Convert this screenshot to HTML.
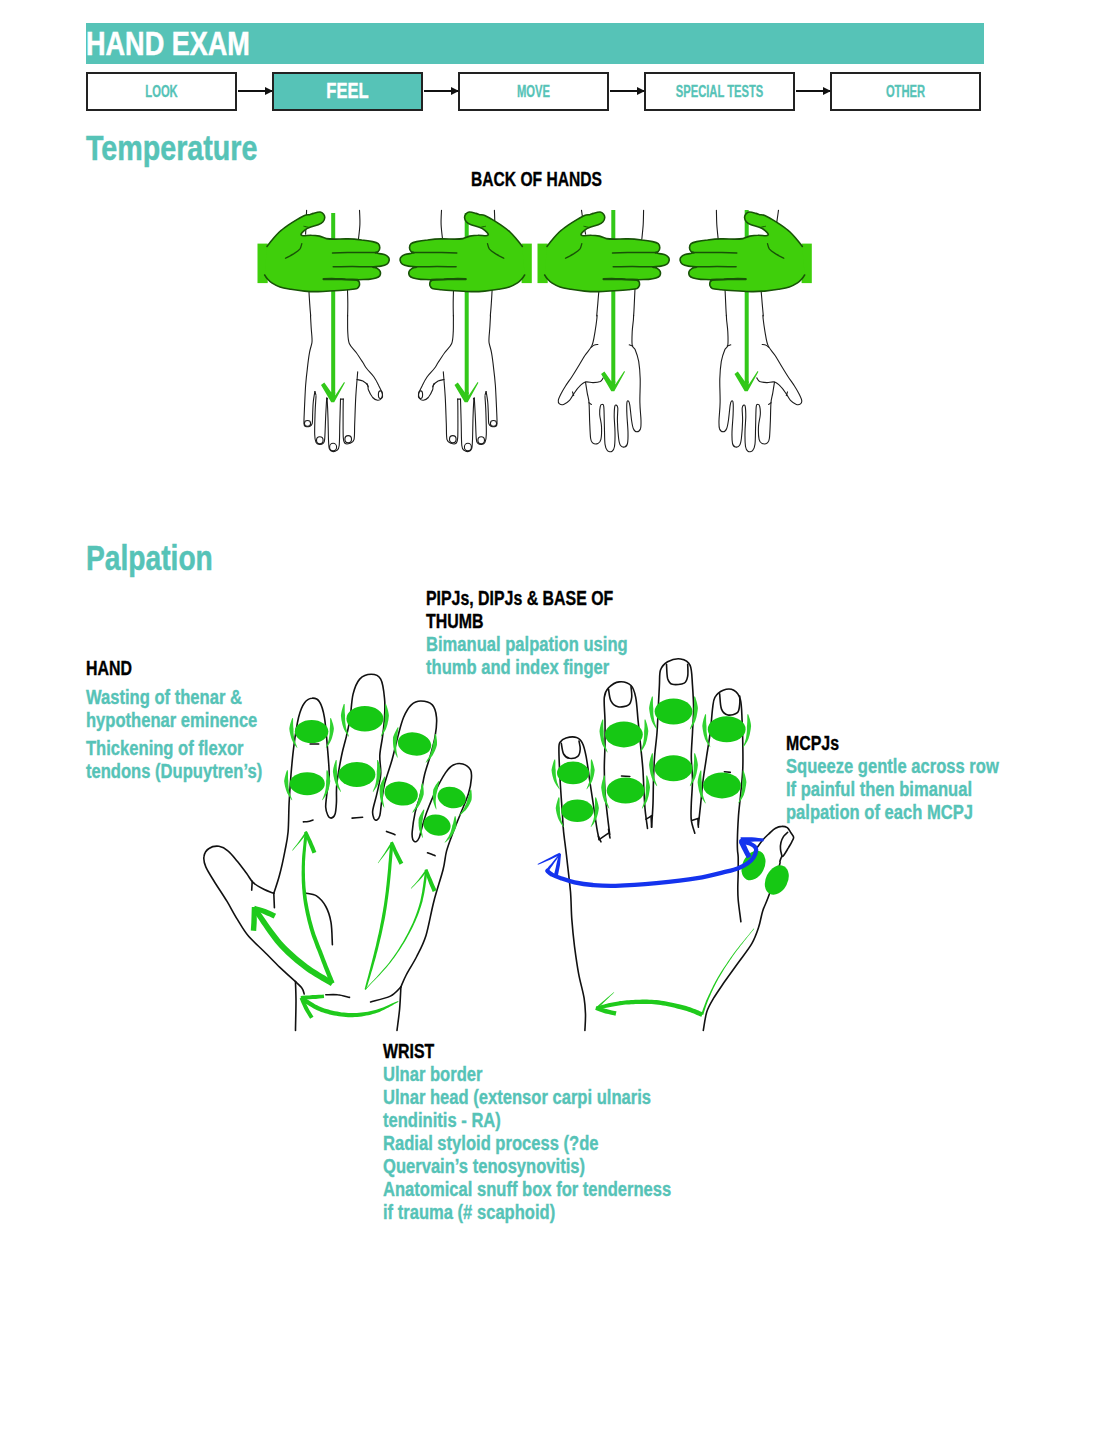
<!DOCTYPE html>
<html><head><meta charset="utf-8">
<style>
html,body{margin:0;padding:0;background:#fff;}
body{width:1100px;height:1438px;position:relative;overflow:hidden;font-family:"Liberation Sans",sans-serif;font-weight:bold;}
.t{position:absolute;white-space:nowrap;transform-origin:0 0;line-height:1;}
.teal{color:#56c3b7;}
.b{margin-top:0.6px;font-size:19.5px;transform:scaleX(.85);-webkit-text-stroke:0.35px currentColor;}
.blk.b{transform:scaleX(.815);}
.blk{color:#000;}
#bar{position:absolute;left:86px;top:23px;width:898px;height:41px;background:#56c3b7;}
.box{position:absolute;top:72px;width:147px;height:35px;border:2px solid #222;background:#fff;box-sizing:content-box;}
.box.on{background:#56c3b7;}
.box span{position:absolute;left:0;top:0;width:100%;text-align:center;display:block;transform-origin:50% 0;line-height:1;white-space:nowrap;}
.arr{position:absolute;top:90px;height:2px;background:#111;}
.arr:after{content:"";position:absolute;right:-1px;top:-3px;border-left:8px solid #111;border-top:4px solid transparent;border-bottom:4px solid transparent;}
svg{position:absolute;left:0;top:0;}
</style></head><body>
<div id="bar"></div>
<div class="t" style="left:86px;top:27px;font-size:33px;color:#fff;transform:scaleX(.82);-webkit-text-stroke:0.5px currentColor;">HAND EXAM</div>

<div class="box" style="left:86px"><span class="teal" style="font-size:16px;top:9.5px;transform:scaleX(.7);-webkit-text-stroke:0.3px currentColor">LOOK</span></div>
<div class="box on" style="left:272px"><span style="color:#fff;font-size:22.5px;top:6px;transform:scaleX(.735);-webkit-text-stroke:0.4px currentColor">FEEL</span></div>
<div class="box" style="left:458px"><span class="teal" style="font-size:16px;top:9.5px;transform:scaleX(.7);-webkit-text-stroke:0.3px currentColor">MOVE</span></div>
<div class="box" style="left:644px"><span class="teal" style="font-size:16px;top:9.5px;transform:scaleX(.7);-webkit-text-stroke:0.3px currentColor">SPECIAL TESTS</span></div>
<div class="box" style="left:830px"><span class="teal" style="font-size:16px;top:9.5px;transform:scaleX(.7);-webkit-text-stroke:0.3px currentColor">OTHER</span></div>
<div class="arr" style="left:238px;width:34px"></div>
<div class="arr" style="left:424px;width:34px"></div>
<div class="arr" style="left:610px;width:34px"></div>
<div class="arr" style="left:796px;width:34px"></div>

<div class="t teal" style="left:86px;top:130px;font-size:35px;transform:scaleX(.818);-webkit-text-stroke:0.5px currentColor;">Temperature</div>
<div class="t blk" style="left:471px;top:170px;font-size:19.5px;transform:scaleX(.80);-webkit-text-stroke:0.35px currentColor;">BACK OF HANDS</div>
<div class="t teal" style="left:86px;top:540px;font-size:35px;transform:scaleX(.805);-webkit-text-stroke:0.5px currentColor;">Palpation</div>


<!-- SVGTOP -->
<svg id="top" width="1100" height="1438" viewBox="0 0 1100 1438">
<defs>
<g id="gh">
<rect x="257.5" y="243.6" width="10.2" height="39.5" fill="#3fcf0b"/>
<path d="M267.0 246.4C268.0 245.2 270.5 241.9 272.5 239.5C274.5 237.2 276.7 234.4 279.3 232.0C281.9 229.7 285.1 227.4 288.2 225.2C291.2 223.1 295.0 220.7 297.7 219.1C300.5 217.5 302.5 216.2 304.5 215.4C306.6 214.7 308.5 214.9 310.0 214.6C311.5 214.2 311.7 213.8 313.4 213.4C315.1 212.9 318.5 211.8 320.2 212.0C321.9 212.2 322.9 213.4 323.6 214.3C324.4 215.3 324.8 216.5 324.7 217.7C324.6 219.0 324.0 220.6 323.0 221.8C321.9 223.0 320.3 223.9 318.2 224.8C316.0 225.7 312.3 226.4 310.0 227.3C307.7 228.2 306.0 229.1 304.5 230.3C303.1 231.4 301.4 233.2 301.1 234.1C300.9 235.0 301.5 235.5 303.2 235.7C304.9 235.9 308.6 235.1 311.4 235.2C314.1 235.2 317.0 235.6 319.5 236.1C322.0 236.7 323.9 238.1 326.4 238.6C328.9 239.1 330.9 239.1 334.5 239.1C338.2 239.2 343.6 238.7 348.2 238.9C352.7 239.0 357.7 239.5 361.8 240.0C365.9 240.4 370.0 241.0 372.7 241.6C375.5 242.2 377.0 242.6 378.2 243.6C379.4 244.7 379.8 246.4 379.8 247.7C379.8 249.0 378.9 250.7 378.2 251.5C377.5 252.4 374.4 252.4 375.5 252.9C376.5 253.4 382.2 253.8 384.3 254.5C386.5 255.3 387.6 256.2 388.4 257.3C389.2 258.3 389.3 259.5 389.1 260.7C388.9 261.8 388.4 263.2 387.0 264.1C385.7 265.0 383.3 265.7 380.9 266.1C378.5 266.6 373.3 266.4 372.7 266.8C372.2 267.2 376.2 267.8 377.5 268.6C378.8 269.4 379.8 270.4 380.2 271.6C380.6 272.8 380.5 274.6 379.8 275.7C379.1 276.8 378.0 277.4 376.1 278.0C374.3 278.6 371.7 279.1 368.6 279.4C365.6 279.7 359.3 279.4 357.7 279.8C356.1 280.2 358.8 280.9 359.1 281.8C359.4 282.7 359.7 284.1 359.4 285.2C359.0 286.3 358.9 287.6 357.0 288.4C355.2 289.1 351.9 289.3 348.2 289.7C344.4 290.1 339.5 290.4 334.5 290.7C329.5 291.0 323.2 291.6 318.2 291.6C313.2 291.7 309.1 291.5 304.5 291.1C300.0 290.7 295.0 290.0 290.9 289.3C286.8 288.6 283.2 288.1 280.0 287.0C276.8 285.9 274.0 284.3 271.8 282.9C269.7 281.5 268.2 279.7 267.0 278.4C265.9 277.1 265.1 275.6 264.7 275.0Z" fill="#3fcf0b" stroke="none"/>
<path d="M267.0 246.4C268.0 245.2 270.5 241.9 272.5 239.5C274.5 237.2 276.7 234.4 279.3 232.0C281.9 229.7 285.1 227.4 288.2 225.2C291.2 223.1 295.0 220.7 297.7 219.1C300.5 217.5 302.5 216.2 304.5 215.4C306.6 214.7 308.5 214.9 310.0 214.6C311.5 214.2 311.7 213.8 313.4 213.4C315.1 212.9 318.5 211.8 320.2 212.0C321.9 212.2 322.9 213.4 323.6 214.3C324.4 215.3 324.8 216.5 324.7 217.7C324.6 219.0 324.0 220.6 323.0 221.8C321.9 223.0 320.3 223.9 318.2 224.8C316.0 225.7 312.3 226.4 310.0 227.3C307.7 228.2 306.0 229.1 304.5 230.3C303.1 231.4 301.4 233.2 301.1 234.1C300.9 235.0 301.5 235.5 303.2 235.7C304.9 235.9 308.6 235.1 311.4 235.2C314.1 235.2 317.0 235.6 319.5 236.1C322.0 236.7 323.9 238.1 326.4 238.6C328.9 239.1 330.9 239.1 334.5 239.1C338.2 239.2 343.6 238.7 348.2 238.9C352.7 239.0 357.7 239.5 361.8 240.0C365.9 240.4 370.0 241.0 372.7 241.6C375.5 242.2 377.0 242.6 378.2 243.6C379.4 244.7 379.8 246.4 379.8 247.7C379.8 249.0 378.9 250.7 378.2 251.5C377.5 252.4 374.4 252.4 375.5 252.9C376.5 253.4 382.2 253.8 384.3 254.5C386.5 255.3 387.6 256.2 388.4 257.3C389.2 258.3 389.3 259.5 389.1 260.7C388.9 261.8 388.4 263.2 387.0 264.1C385.7 265.0 383.3 265.7 380.9 266.1C378.5 266.6 373.3 266.4 372.7 266.8C372.2 267.2 376.2 267.8 377.5 268.6C378.8 269.4 379.8 270.4 380.2 271.6C380.6 272.8 380.5 274.6 379.8 275.7C379.1 276.8 378.0 277.4 376.1 278.0C374.3 278.6 371.7 279.1 368.6 279.4C365.6 279.7 359.3 279.4 357.7 279.8C356.1 280.2 358.8 280.9 359.1 281.8C359.4 282.7 359.7 284.1 359.4 285.2C359.0 286.3 358.9 287.6 357.0 288.4C355.2 289.1 351.9 289.3 348.2 289.7C344.4 290.1 339.5 290.4 334.5 290.7C329.5 291.0 323.2 291.6 318.2 291.6C313.2 291.7 309.1 291.5 304.5 291.1C300.0 290.7 295.0 290.0 290.9 289.3C286.8 288.6 283.2 288.1 280.0 287.0C276.8 285.9 274.0 284.3 271.8 282.9C269.7 281.5 268.2 279.7 267.0 278.4C265.9 277.1 265.1 275.6 264.7 275.0" fill="none" stroke="#185307" stroke-width="1.6" stroke-linejoin="round" stroke-linecap="round"/>
<path d="M332.5 252.9C335.8 252.8 344.8 252.6 352.3 252.5C359.8 252.4 373.3 252.5 377.5 252.5" fill="none" stroke="#185307" stroke-width="1.5" stroke-linecap="round"/>
<path d="M333.2 266.8C336.4 266.8 347.0 266.5 352.3 266.5C357.5 266.5 361.1 266.8 364.5 266.8C368.0 266.9 371.4 266.8 372.7 266.8" fill="none" stroke="#185307" stroke-width="1.5" stroke-linecap="round"/>
<path d="M323.6 279.1C325.0 279.0 328.2 278.8 331.8 278.8C335.5 278.9 341.1 279.2 345.5 279.4C349.8 279.5 355.7 279.7 357.7 279.8" fill="none" stroke="#185307" stroke-width="2.2" stroke-linecap="round"/>
<path d="M301.8 243.6C301.5 244.5 301.1 247.4 299.8 249.1C298.4 250.8 296.0 252.3 293.6 253.9C291.2 255.4 286.8 257.5 285.5 258.2" fill="none" stroke="#185307" stroke-width="1.3" stroke-linecap="round"/>
<path d="M303.9 226.3C304.7 226.5 307.8 227.1 308.6 227.3" fill="none" stroke="#185307" stroke-width="1.0" stroke-linecap="round"/>
</g>
<g id="back" fill="none" stroke="#1c1c1c" stroke-width="1.1" stroke-linecap="round" stroke-linejoin="round">
<path d="M310.5 315.6C310.6 317.5 310.9 323.1 311.1 326.5C311.3 330.0 311.7 333.6 311.9 336.4C312.0 339.1 312.3 340.2 311.9 342.9C311.5 345.6 310.2 348.4 309.5 352.7C308.7 357.1 307.9 363.6 307.3 369.1C306.6 374.5 306.1 379.1 305.6 385.5C305.2 391.8 304.8 400.9 304.5 407.3C304.3 413.6 303.8 420.5 304.0 423.6C304.2 426.8 304.7 425.9 305.6 426.4C306.5 426.8 308.4 426.8 309.5 426.4C310.5 425.9 311.6 425.9 312.2 423.6C312.7 421.4 312.5 416.4 312.7 412.7C312.9 409.1 312.9 405.4 313.3 401.8C313.6 398.3 314.6 393.2 314.9 391.5"/>
<path d="M314.9 391.5C315.1 392.1 315.8 394.6 316.0 395.3"/>
<path d="M316.0 396.4C315.9 399.1 315.3 406.4 315.1 412.7C314.9 419.1 314.5 429.6 314.7 434.5C314.8 439.5 315.2 440.5 316.0 442.2C316.8 443.8 318.1 444.2 319.3 444.4C320.5 444.5 322.2 444.2 323.1 443.3C324.0 442.4 324.3 443.1 324.7 438.9C325.1 434.7 325.3 425.0 325.6 418.2C325.9 411.4 326.5 401.4 326.7 398.0"/>
<path d="M327.1 398.5C327.3 401.8 327.8 411.3 328.0 418.2C328.2 425.1 328.3 434.9 328.5 440.0C328.8 445.1 328.7 446.8 329.3 448.7C329.9 450.6 331.1 451.2 332.4 451.5C333.6 451.7 335.6 451.4 336.7 450.4C337.9 449.4 338.7 449.9 339.2 445.5C339.7 441.0 339.6 431.4 339.8 423.6C340.0 415.9 340.4 403.2 340.5 399.1"/>
<path d="M343.3 399.1C343.2 402.3 343.1 411.7 343.1 418.2C343.1 424.6 343.0 433.6 343.3 437.8C343.6 442.0 343.8 442.4 344.9 443.3C346.0 444.2 348.3 443.9 349.8 443.3C351.3 442.6 353.1 442.7 354.0 439.5C354.8 436.2 354.4 430.8 354.7 423.6C355.0 416.5 355.3 405.0 355.8 396.4C356.3 387.7 357.4 375.9 357.7 371.8"/>
<path d="M347.6 315.6C347.6 316.4 347.6 317.5 347.6 320.0C347.7 322.5 347.5 327.0 347.7 330.9C348.0 334.8 347.8 339.8 349.3 343.5C350.7 347.1 354.1 349.5 356.4 352.7C358.6 355.9 361.2 359.9 362.9 362.5C364.6 365.2 364.9 366.2 366.7 368.5C368.5 370.9 371.8 373.9 373.8 376.7C375.8 379.5 377.3 382.5 378.7 385.5C380.2 388.4 382.1 392.0 382.5 394.2C383.0 396.4 382.3 397.5 381.5 398.5C380.6 399.5 379.1 400.4 377.6 400.2C376.2 400.0 374.3 399.2 372.7 397.5C371.2 395.7 369.2 391.8 368.4 389.8C367.5 387.8 368.7 386.9 367.8 385.5C366.9 384.0 364.7 382.1 362.9 381.1C361.1 380.1 357.9 379.7 356.9 379.5"/>
<path d="M367.3 383.8C367.4 384.3 368.0 386.3 368.1 386.8"/>
<path d="M340.5 399.1C341.0 399.1 343.0 399.1 343.5 399.1"/>
<path d="M326.7 398.0C326.8 398.1 327.4 398.6 327.6 398.8"/>
<ellipse cx="307.5" cy="423.4" rx="3.1" ry="2.9"/>
<ellipse cx="319.8" cy="440.3" rx="3.3" ry="3.5"/>
<ellipse cx="333.1" cy="447.1" rx="3.5" ry="3.8"/>
<ellipse cx="348.2" cy="439.2" rx="3.3" ry="3.6"/>
<ellipse cx="380.4" cy="394.7" rx="2.0" ry="3.8"/>
<path d="M306.6 210.2C306.5 212.2 306.3 217.8 306.2 221.8C306.0 225.8 305.7 232.0 305.6 234.1"/>
<path d="M359.5 210.2C359.6 212.6 360.1 219.7 359.9 224.5C359.7 229.4 358.7 237.0 358.4 239.5"/>
<path d="M308.9 290.0C309.0 292.3 309.4 299.3 309.7 303.6C310.0 308.0 310.5 313.9 310.7 315.9"/>
<path d="M347.5 288.6C347.5 291.1 347.8 299.1 347.8 303.6C347.8 308.2 347.7 313.9 347.6 315.9"/>
</g>
<g id="palm" fill="none" stroke="#1c1c1c" stroke-width="1.1" stroke-linecap="round" stroke-linejoin="round">
<path d="M597.1 315.3C597.0 316.1 597.1 317.2 596.7 320.0C596.4 322.8 595.7 327.6 595.0 331.8C594.2 336.1 593.7 341.5 592.0 345.4C590.3 349.3 587.3 351.8 584.9 355.5C582.5 359.1 580.0 363.7 577.8 367.3C575.7 370.8 574.0 373.6 571.9 376.7C569.8 379.9 567.2 383.4 565.4 386.2C563.6 388.9 562.5 390.9 561.3 393.3C560.1 395.6 558.6 398.6 558.3 400.4C558.0 402.1 558.6 403.2 559.5 403.9C560.4 404.6 562.0 405.1 563.6 404.5C565.3 403.9 567.9 402.1 569.5 400.4C571.2 398.6 572.1 396.1 573.7 393.9C575.3 391.6 577.0 388.7 579.0 386.8C581.0 384.8 583.1 382.7 585.5 382.0C587.9 381.4 590.7 382.7 593.2 382.6C595.6 382.5 598.6 382.2 600.3 381.5C601.9 380.7 602.7 378.5 603.2 377.9"/>
<path d="M591.4 347.2C591.9 346.8 593.3 345.5 594.4 345.1C595.4 344.6 597.3 344.6 597.9 344.5"/>
<path d="M572.5 391.9C572.7 392.5 573.5 395.0 573.7 395.6"/>
<path d="M585.5 382.0C585.8 383.9 586.7 389.8 587.3 393.3C587.9 396.7 588.7 398.2 589.0 402.7C589.4 407.3 589.4 414.5 589.6 420.5C589.9 426.4 590.1 434.4 590.6 438.2C591.1 441.9 591.4 442.0 592.6 442.9C593.8 443.8 596.5 444.1 597.9 443.5C599.3 442.9 600.3 442.2 600.9 439.4C601.5 436.5 601.7 430.5 601.5 426.4C601.3 422.2 599.9 417.9 599.7 414.5C599.5 411.2 599.9 407.9 600.3 406.3C600.7 404.6 601.5 404.4 602.0 404.5C602.6 404.6 603.4 403.2 603.8 406.9C604.2 410.5 604.2 420.2 604.4 426.4C604.6 432.6 604.5 440.1 605.0 444.1C605.5 448.1 606.2 449.4 607.4 450.6C608.5 451.8 610.9 451.9 612.1 451.2C613.3 450.5 614.0 449.6 614.5 446.5C614.9 443.3 615.1 437.2 615.0 432.3C615.0 427.3 614.3 421.1 614.2 416.9C614.2 412.7 614.4 408.8 614.7 406.9C615.0 404.9 615.7 404.9 616.2 405.1C616.7 405.3 617.6 405.5 617.8 408.0C618.0 410.6 617.3 415.4 617.4 420.5C617.5 425.5 618.1 434.0 618.6 438.2C619.1 442.3 619.4 443.8 620.4 445.3C621.3 446.8 623.3 447.3 624.5 447.0C625.7 446.8 626.9 446.0 627.5 443.5C628.0 441.0 628.1 437.1 628.0 432.3C627.9 427.4 627.1 419.5 626.9 414.5C626.7 409.6 626.6 405.0 626.9 402.7C627.1 400.5 627.9 400.6 628.4 401.0C628.9 401.3 629.3 401.8 629.8 405.1C630.3 408.3 631.0 416.5 631.6 420.5C632.2 424.4 632.5 426.9 633.4 428.7C634.2 430.6 635.7 431.7 636.9 431.7C638.1 431.7 639.8 430.6 640.5 428.7C641.1 426.9 641.1 424.8 641.0 420.5C640.9 416.1 640.0 409.6 639.9 402.7C639.7 395.8 640.4 386.0 640.2 379.1C640.0 372.2 639.5 366.3 638.7 361.4C637.8 356.4 636.2 352.2 635.1 349.5C634.1 346.9 632.7 348.4 632.2 345.4C631.7 342.5 632.0 336.1 632.2 331.8C632.4 327.6 633.1 322.8 633.4 320.0C633.6 317.2 633.6 316.1 633.6 315.3"/>
<path d="M589.0 402.7C589.4 403.0 591.0 404.2 591.4 404.5"/>
<path d="M629.2 344.8C629.8 345.0 632.2 345.8 632.8 346.0"/>
<path d="M581.5 210.2C581.8 212.2 582.5 217.8 583.2 221.8C583.9 225.8 585.2 232.0 585.6 234.1"/>
<path d="M643.6 210.2C643.5 212.6 643.5 219.7 643.2 224.5C642.9 229.4 642.0 237.0 641.8 239.5"/>
<path d="M598.9 290.7C598.7 292.8 598.1 299.4 597.8 303.6C597.4 307.8 596.9 313.9 596.7 315.9"/>
<path d="M635.0 288.6C634.9 291.1 634.5 299.1 634.3 303.6C634.1 308.2 633.8 313.9 633.6 315.9"/>
</g>
<g id="arw"><path d="M-12.2 -16.9 L-8.9 -19.6 L-2 -9.8 L2 -9.8 L2 -6.5 L10.9 -19.9 L11.7 -19.3 L1 0.3 L-2 0.3Z" fill="#32c818"/></g>
</defs>
<use href="#back"/>
<use href="#back" transform="translate(801,0) scale(-1,1)"/>
<use href="#palm"/>
<use href="#palm" transform="translate(1360,0) scale(-1,1)"/>
<rect x="331.2" y="213" width="4" height="181.0" fill="#32c818"/>
<use href="#arw" transform="translate(333.2,402.0)"/>
<rect x="464.7" y="213" width="4" height="181.0" fill="#32c818"/>
<use href="#arw" transform="translate(466.7,402.0)"/>
<rect x="611.3" y="210" width="4" height="173.0" fill="#32c818"/>
<use href="#arw" transform="translate(613.3,391.0)"/>
<rect x="744.7" y="210" width="4" height="173.0" fill="#32c818"/>
<use href="#arw" transform="translate(746.7,391.0)"/>
<use href="#gh"/>
<use href="#gh" transform="translate(789.3,0) scale(-1,1)"/>
<use href="#gh" transform="translate(280,0)"/>
<use href="#gh" transform="translate(1069.3,0) scale(-1,1)"/>
</svg>
<!-- /SVGTOP -->
<!-- SVGBOT -->
<svg id="bot" width="1100" height="1438" viewBox="0 0 1100 1438">
<g fill="none" stroke="#111" stroke-width="1.6" stroke-linecap="round" stroke-linejoin="round">
<path d="M295.5 981.6C295.5 984.9 296.0 993.2 296.0 1001.4C296.0 1009.5 295.5 1025.5 295.5 1030.4"/>
<path d="M295.5 981.6C296.6 982.7 300.6 986.1 302.0 988.2C303.5 990.2 303.8 993.0 304.2 994.0"/>
<path d="M295.5 981.6C292.8 979.2 284.9 972.1 279.6 967.1C274.4 962.0 269.1 956.5 263.8 951.3C258.5 946.0 252.4 940.7 248.0 935.5C243.6 930.2 241.0 925.3 237.5 919.6C233.9 913.9 230.6 907.3 226.9 901.2C223.2 895.0 218.6 888.4 215.0 882.7C211.5 877.0 207.7 871.3 205.8 866.9C204.0 862.5 203.4 859.4 204.0 856.4C204.5 853.3 206.5 850.1 209.0 848.5C211.5 846.8 215.8 845.9 219.0 846.3C222.2 846.8 225.2 848.5 228.2 851.1C231.3 853.6 234.4 857.9 237.5 861.6C240.5 865.4 244.0 870.0 246.7 873.5C249.3 877.0 250.4 880.1 253.3 882.7C256.1 885.4 260.4 887.6 263.8 889.3C267.2 891.1 272.2 892.6 273.8 893.3"/>
<path d="M252.2 881.4C252.1 882.9 251.8 888.7 251.7 890.1"/>
<path d="M273.8 893.3C273.9 895.7 274.3 905.4 274.4 907.8"/>
<path d="M273.8 893.3C274.8 890.2 277.8 881.8 279.6 874.8C281.5 867.8 283.5 858.3 284.9 851.1C286.3 843.9 287.4 839.8 288.1 831.8C288.8 823.8 288.6 812.7 289.1 803.2C289.6 793.6 290.2 784.1 291.0 774.5C291.8 765.0 292.6 755.5 293.9 745.9C295.1 736.4 296.9 724.4 298.6 717.3C300.4 710.1 302.1 706.1 304.4 703.0C306.6 699.8 309.5 698.3 312.0 698.2C314.5 698.0 317.6 698.8 319.6 702.0C321.7 705.2 323.1 710.0 324.4 717.3C325.7 724.6 326.5 736.4 327.3 745.9C328.1 755.5 329.2 766.6 329.2 774.5C329.1 782.5 327.5 788.2 326.9 793.6C326.3 799.0 325.6 803.4 325.7 807.0C325.9 810.6 326.8 813.2 327.7 815.0C328.5 816.9 329.9 818.1 331.1 818.1C332.3 818.0 334.0 817.1 334.9 814.6C335.8 812.2 336.1 808.3 336.4 803.2C336.8 798.1 336.0 792.0 336.8 784.1C337.7 776.1 340.0 763.4 341.6 755.5C343.2 747.5 344.9 742.7 346.4 736.4C347.8 730.0 349.1 724.3 350.2 717.3C351.3 710.3 351.5 700.7 353.0 694.4C354.6 688.0 356.7 682.4 359.7 679.1C362.8 675.8 367.7 674.3 371.2 674.3C374.7 674.3 378.5 675.1 380.7 679.1C383.0 683.1 383.9 691.8 384.5 698.2C385.2 704.5 384.9 710.9 384.5 717.3C384.2 723.6 383.4 730.0 382.6 736.4C381.8 742.7 380.1 749.1 379.8 755.5C379.5 761.8 381.2 768.2 380.7 774.5C380.2 780.9 378.2 787.6 376.9 793.6C375.6 799.7 373.2 806.7 372.7 810.8C372.2 815.0 373.3 816.9 374.0 818.5C374.7 820.0 376.0 820.5 376.9 820.0C377.9 819.5 379.0 818.7 379.8 815.6C380.6 812.5 380.9 806.5 381.7 801.3C382.5 796.0 382.8 791.1 384.5 784.1C386.3 777.1 390.0 767.2 392.2 759.3C394.4 751.3 396.0 743.4 397.9 736.4C399.8 729.4 401.4 722.5 403.6 717.3C405.9 712.0 408.4 707.6 411.3 704.9C414.1 702.2 417.3 701.0 420.8 701.0C424.3 701.0 429.7 702.2 432.3 704.9C434.9 707.6 436.0 712.0 436.5 717.3C437.0 722.5 436.2 730.0 435.1 736.4C434.1 742.7 432.1 749.1 430.4 755.5C428.6 761.8 426.2 768.2 424.6 774.5C423.0 780.9 422.4 787.3 420.8 793.6C419.2 800.0 416.5 806.4 415.1 812.7C413.7 819.1 412.6 827.4 412.2 831.8C411.8 836.3 412.2 837.8 412.8 839.5C413.4 841.1 415.0 842.1 416.0 841.7C417.1 841.4 418.3 839.8 419.3 837.5C420.2 835.3 420.6 832.1 421.8 828.0C423.0 823.9 424.2 819.1 426.5 812.7C428.9 806.4 432.9 796.5 436.1 789.8C439.3 783.1 442.8 776.8 445.6 772.6C448.5 768.5 450.4 766.4 453.3 765.0C456.1 763.6 460.0 763.2 462.8 764.0C465.7 764.8 469.0 767.4 470.5 769.8C471.9 772.2 471.7 774.4 471.4 778.4C471.1 782.3 470.3 787.9 468.5 793.6C466.8 799.4 463.5 806.4 460.9 812.7C458.4 819.1 455.7 825.5 453.3 831.8C450.9 838.2 448.3 844.6 446.6 850.9C444.9 857.2 445.2 861.2 443.1 869.5C441.0 877.9 436.7 890.2 433.9 901.2C431.0 912.2 428.8 926.2 426.0 935.5C423.1 944.7 420.0 950.0 416.7 956.5C413.4 963.1 408.8 969.9 406.2 975.0C403.5 980.1 401.8 984.9 400.9 986.9"/>
<path d="M400.9 986.9C400.7 990.6 400.2 1002.0 399.6 1009.3C398.9 1016.5 397.4 1026.8 397.0 1030.4"/>
<path d="M400.9 986.9C399.2 988.4 395.4 993.6 390.4 996.1C385.3 998.6 373.9 1000.9 370.6 1001.9"/>
<path d="M325.8 994.8C327.8 994.8 333.7 994.3 337.6 994.8C341.6 995.2 347.5 997.0 349.5 997.4"/>
<path d="M306.0 893.3C307.8 893.7 313.2 893.7 316.5 895.9C319.8 898.1 323.4 902.1 325.8 906.5C328.2 910.8 329.9 915.9 331.0 922.3C332.1 928.6 332.1 940.9 332.4 944.7"/>
<path d="M310.1 744.0C311.5 744.0 317.2 744.0 318.7 744.0"/>
<path d="M303.4 821.9C304.2 821.8 306.6 821.8 308.2 821.5C309.8 821.2 312.2 820.2 313.0 820.0"/>
<path d="M352.1 818.1C353.8 817.9 360.8 817.4 362.6 817.3"/>
<path d="M386.5 831.4C387.9 832.0 393.6 834.1 395.0 834.7"/>
<path d="M427.5 852.8C428.8 853.3 433.9 855.2 435.1 855.7"/>
</g>
<g transform="translate(311.6,731.6) rotate(0)"><path d="M-19.4 -13.5L-19.7 -12.7L-20.1 -11.7L-20.5 -10.4L-20.9 -9.0L-21.4 -7.5L-21.8 -5.9L-22.1 -4.3L-22.3 -2.8L-22.1 -1.4L-21.9 0.1L-21.6 1.5L-21.3 3.0L-20.9 4.4L-20.5 5.8L-20.1 7.1L-19.6 8.4L-19.0 9.7L-18.4 10.9L-17.6 12.1L-16.9 13.3L-16.1 14.3L-15.5 15.2L-14.9 16.0L-14.4 16.5L-14.2 16.4L-14.4 15.7L-14.7 14.8L-15.1 13.7L-15.6 12.6L-16.1 11.3L-16.5 10.1L-16.9 8.8L-17.2 7.6L-17.4 6.4L-17.6 5.1L-17.8 3.8L-18.0 2.4L-18.1 1.1L-18.1 -0.3L-18.1 -1.6L-18.1 -2.9L-18.3 -4.2L-18.4 -5.6L-18.5 -7.1L-18.5 -8.7L-18.5 -10.1L-18.5 -11.4L-18.5 -12.5L-18.6 -13.4Z" fill="#30d230"/><path d="M18.6 -13.4L18.5 -12.5L18.5 -11.4L18.5 -10.1L18.5 -8.7L18.5 -7.1L18.4 -5.6L18.3 -4.2L18.1 -2.9L18.1 -1.6L18.1 -0.3L18.1 1.1L18.0 2.4L17.8 3.8L17.6 5.1L17.4 6.4L17.2 7.6L16.9 8.8L16.5 10.1L16.1 11.3L15.6 12.6L15.1 13.7L14.7 14.8L14.4 15.7L14.2 16.4L14.4 16.5L14.9 16.0L15.5 15.2L16.1 14.3L16.9 13.3L17.6 12.1L18.4 10.9L19.0 9.7L19.6 8.4L20.1 7.1L20.5 5.8L20.9 4.4L21.3 3.0L21.6 1.5L21.9 0.1L22.1 -1.4L22.3 -2.8L22.1 -4.3L21.8 -5.9L21.4 -7.5L20.9 -9.0L20.5 -10.4L20.1 -11.7L19.7 -12.7L19.4 -13.5Z" fill="#30d230"/><ellipse rx="16.8" ry="11.5" fill="#16c814"/></g>
<g transform="translate(307.2,783.7) rotate(0)"><path d="M-20.2 -13.5L-20.5 -12.7L-20.9 -11.7L-21.3 -10.4L-21.7 -9.0L-22.1 -7.5L-22.5 -5.9L-22.8 -4.3L-23.1 -2.8L-22.9 -1.4L-22.7 0.1L-22.4 1.5L-22.1 3.0L-21.7 4.4L-21.3 5.8L-20.9 7.1L-20.4 8.4L-19.8 9.7L-19.1 10.9L-18.4 12.1L-17.6 13.3L-16.9 14.3L-16.2 15.2L-15.7 16.0L-15.2 16.5L-14.9 16.4L-15.1 15.7L-15.5 14.8L-15.9 13.7L-16.4 12.6L-16.8 11.3L-17.3 10.1L-17.7 8.8L-17.9 7.6L-18.2 6.4L-18.4 5.1L-18.6 3.8L-18.7 2.4L-18.8 1.1L-18.9 -0.3L-18.9 -1.6L-18.9 -2.9L-19.1 -4.2L-19.2 -5.6L-19.2 -7.1L-19.2 -8.7L-19.2 -10.1L-19.2 -11.4L-19.3 -12.5L-19.4 -13.4Z" fill="#30d230"/><path d="M19.4 -13.4L19.3 -12.5L19.2 -11.4L19.2 -10.1L19.2 -8.7L19.2 -7.1L19.2 -5.6L19.1 -4.2L18.9 -2.9L18.9 -1.6L18.9 -0.3L18.8 1.1L18.7 2.4L18.6 3.8L18.4 5.1L18.2 6.4L17.9 7.6L17.7 8.8L17.3 10.1L16.8 11.3L16.4 12.6L15.9 13.7L15.5 14.8L15.1 15.7L14.9 16.4L15.2 16.5L15.7 16.0L16.2 15.2L16.9 14.3L17.6 13.3L18.4 12.1L19.1 10.9L19.8 9.7L20.4 8.4L20.9 7.1L21.3 5.8L21.7 4.4L22.1 3.0L22.4 1.5L22.7 0.1L22.9 -1.4L23.1 -2.8L22.8 -4.3L22.5 -5.9L22.1 -7.5L21.7 -9.0L21.3 -10.4L20.9 -11.7L20.5 -12.7L20.2 -13.5Z" fill="#30d230"/><ellipse rx="17.6" ry="11.5" fill="#16c814"/></g>
<g transform="translate(364.9,718.8) rotate(0)"><path d="M-21.1 -14.8L-21.4 -14.0L-21.8 -12.8L-22.2 -11.5L-22.7 -9.9L-23.1 -8.3L-23.5 -6.5L-23.8 -4.8L-24.0 -3.2L-23.8 -1.6L-23.6 0.1L-23.4 1.7L-23.0 3.3L-22.7 4.9L-22.3 6.4L-21.8 7.9L-21.4 9.3L-20.8 10.7L-20.1 12.0L-19.4 13.3L-18.6 14.5L-17.9 15.5L-17.2 16.5L-16.6 17.3L-16.2 17.9L-15.9 17.7L-16.1 17.0L-16.4 16.1L-16.8 15.0L-17.3 13.8L-17.8 12.5L-18.2 11.2L-18.6 9.9L-18.9 8.6L-19.1 7.3L-19.3 5.8L-19.5 4.3L-19.7 2.8L-19.8 1.2L-19.8 -0.3L-19.9 -1.8L-19.8 -3.2L-20.0 -4.7L-20.1 -6.3L-20.2 -7.9L-20.2 -9.6L-20.2 -11.2L-20.2 -12.6L-20.2 -13.8L-20.3 -14.7Z" fill="#30d230"/><path d="M20.3 -14.7L20.2 -13.8L20.2 -12.6L20.2 -11.2L20.2 -9.6L20.2 -7.9L20.1 -6.3L20.0 -4.7L19.8 -3.2L19.9 -1.8L19.8 -0.3L19.8 1.2L19.7 2.8L19.5 4.3L19.3 5.8L19.1 7.3L18.9 8.6L18.6 9.9L18.2 11.2L17.8 12.5L17.3 13.8L16.8 15.0L16.4 16.1L16.1 17.0L15.9 17.7L16.2 17.9L16.6 17.3L17.2 16.5L17.9 15.5L18.6 14.5L19.4 13.3L20.1 12.0L20.8 10.7L21.4 9.3L21.8 7.9L22.3 6.4L22.7 4.9L23.0 3.3L23.4 1.7L23.6 0.1L23.8 -1.6L24.0 -3.2L23.8 -4.8L23.5 -6.5L23.1 -8.3L22.7 -9.9L22.2 -11.5L21.8 -12.8L21.4 -14.0L21.1 -14.8Z" fill="#30d230"/><ellipse rx="18.5" ry="12.8" fill="#16c814"/></g>
<g transform="translate(356.9,774.5) rotate(0)"><path d="M-21.1 -14.5L-21.4 -13.6L-21.8 -12.5L-22.2 -11.2L-22.7 -9.7L-23.1 -8.0L-23.5 -6.4L-23.8 -4.7L-24.0 -3.1L-23.8 -1.5L-23.6 0.1L-23.4 1.6L-23.0 3.2L-22.7 4.8L-22.3 6.3L-21.8 7.7L-21.4 9.1L-20.8 10.4L-20.1 11.7L-19.4 12.9L-18.6 14.1L-17.9 15.2L-17.2 16.1L-16.6 16.9L-16.2 17.5L-15.9 17.3L-16.1 16.6L-16.4 15.7L-16.8 14.6L-17.3 13.5L-17.8 12.2L-18.2 10.9L-18.6 9.6L-18.9 8.3L-19.1 7.0L-19.3 5.6L-19.5 4.2L-19.7 2.7L-19.8 1.2L-19.8 -0.3L-19.9 -1.8L-19.8 -3.1L-20.0 -4.5L-20.1 -6.1L-20.2 -7.7L-20.2 -9.3L-20.2 -10.9L-20.2 -12.3L-20.2 -13.5L-20.3 -14.4Z" fill="#30d230"/><path d="M20.3 -14.4L20.2 -13.5L20.2 -12.3L20.2 -10.9L20.2 -9.3L20.2 -7.7L20.1 -6.1L20.0 -4.5L19.8 -3.1L19.9 -1.8L19.8 -0.3L19.8 1.2L19.7 2.7L19.5 4.2L19.3 5.6L19.1 7.0L18.9 8.3L18.6 9.6L18.2 10.9L17.8 12.2L17.3 13.5L16.8 14.6L16.4 15.7L16.1 16.6L15.9 17.3L16.2 17.5L16.6 16.9L17.2 16.1L17.9 15.2L18.6 14.1L19.4 12.9L20.1 11.7L20.8 10.4L21.4 9.1L21.8 7.7L22.3 6.3L22.7 4.8L23.0 3.2L23.4 1.6L23.6 0.1L23.8 -1.5L24.0 -3.1L23.8 -4.7L23.5 -6.4L23.1 -8.0L22.7 -9.7L22.2 -11.2L21.8 -12.5L21.4 -13.6L21.1 -14.5Z" fill="#30d230"/><ellipse rx="18.5" ry="12.4" fill="#16c814"/></g>
<g transform="translate(414.5,744.0) rotate(10)"><path d="M-19.4 -13.5L-19.7 -12.7L-20.1 -11.7L-20.5 -10.4L-20.9 -9.0L-21.4 -7.5L-21.8 -5.9L-22.1 -4.3L-22.3 -2.8L-22.1 -1.4L-21.9 0.1L-21.6 1.5L-21.3 3.0L-20.9 4.4L-20.5 5.8L-20.1 7.1L-19.6 8.4L-19.0 9.7L-18.4 10.9L-17.6 12.1L-16.9 13.3L-16.1 14.3L-15.5 15.2L-14.9 16.0L-14.4 16.5L-14.2 16.4L-14.4 15.7L-14.7 14.8L-15.1 13.7L-15.6 12.6L-16.1 11.3L-16.5 10.1L-16.9 8.8L-17.2 7.6L-17.4 6.4L-17.6 5.1L-17.8 3.8L-18.0 2.4L-18.1 1.1L-18.1 -0.3L-18.1 -1.6L-18.1 -2.9L-18.3 -4.2L-18.4 -5.6L-18.5 -7.1L-18.5 -8.7L-18.5 -10.1L-18.5 -11.4L-18.5 -12.5L-18.6 -13.4Z" fill="#30d230"/><path d="M18.6 -13.4L18.5 -12.5L18.5 -11.4L18.5 -10.1L18.5 -8.7L18.5 -7.1L18.4 -5.6L18.3 -4.2L18.1 -2.9L18.1 -1.6L18.1 -0.3L18.1 1.1L18.0 2.4L17.8 3.8L17.6 5.1L17.4 6.4L17.2 7.6L16.9 8.8L16.5 10.1L16.1 11.3L15.6 12.6L15.1 13.7L14.7 14.8L14.4 15.7L14.2 16.4L14.4 16.5L14.9 16.0L15.5 15.2L16.1 14.3L16.9 13.3L17.6 12.1L18.4 10.9L19.0 9.7L19.6 8.4L20.1 7.1L20.5 5.8L20.9 4.4L21.3 3.0L21.6 1.5L21.9 0.1L22.1 -1.4L22.3 -2.8L22.1 -4.3L21.8 -5.9L21.4 -7.5L20.9 -9.0L20.5 -10.4L20.1 -11.7L19.7 -12.7L19.4 -13.5Z" fill="#30d230"/><ellipse rx="16.8" ry="11.5" fill="#16c814"/></g>
<g transform="translate(401.2,793.6) rotate(10)"><path d="M-19.4 -13.9L-19.7 -13.1L-20.1 -12.0L-20.5 -10.7L-21.0 -9.3L-21.4 -7.7L-21.8 -6.1L-22.1 -4.5L-22.3 -2.9L-22.1 -1.4L-21.9 0.1L-21.6 1.6L-21.3 3.1L-20.9 4.6L-20.5 6.0L-20.1 7.4L-19.6 8.7L-19.1 10.0L-18.4 11.2L-17.6 12.4L-16.9 13.6L-16.1 14.7L-15.5 15.6L-14.9 16.3L-14.4 16.9L-14.2 16.8L-14.4 16.1L-14.7 15.2L-15.1 14.1L-15.6 12.9L-16.1 11.7L-16.5 10.4L-16.9 9.1L-17.2 7.9L-17.4 6.7L-17.6 5.3L-17.8 3.9L-18.0 2.5L-18.1 1.1L-18.1 -0.3L-18.1 -1.7L-18.1 -3.0L-18.3 -4.3L-18.4 -5.8L-18.5 -7.4L-18.5 -8.9L-18.5 -10.4L-18.5 -11.8L-18.5 -12.9L-18.6 -13.8Z" fill="#30d230"/><path d="M18.6 -13.8L18.5 -12.9L18.5 -11.8L18.5 -10.4L18.5 -8.9L18.5 -7.4L18.4 -5.8L18.3 -4.3L18.1 -3.0L18.1 -1.7L18.1 -0.3L18.1 1.1L18.0 2.5L17.8 3.9L17.6 5.3L17.4 6.7L17.2 7.9L16.9 9.1L16.5 10.4L16.1 11.7L15.6 12.9L15.1 14.1L14.7 15.2L14.4 16.1L14.2 16.8L14.4 16.9L14.9 16.3L15.5 15.6L16.1 14.7L16.9 13.6L17.6 12.4L18.4 11.2L19.1 10.0L19.6 8.7L20.1 7.4L20.5 6.0L20.9 4.6L21.3 3.1L21.6 1.6L21.9 0.1L22.1 -1.4L22.3 -2.9L22.1 -4.5L21.8 -6.1L21.4 -7.7L21.0 -9.3L20.5 -10.7L20.1 -12.0L19.7 -13.1L19.4 -13.9Z" fill="#30d230"/><ellipse rx="16.8" ry="11.8" fill="#16c814"/></g>
<g transform="translate(451.7,797.5) rotate(15)"><path d="M-16.9 -12.6L-17.2 -11.8L-17.6 -10.9L-18.0 -9.7L-18.5 -8.4L-18.9 -7.0L-19.3 -5.5L-19.6 -4.0L-19.8 -2.6L-19.6 -1.2L-19.4 0.1L-19.1 1.5L-18.8 2.8L-18.5 4.1L-18.1 5.3L-17.6 6.6L-17.1 7.8L-16.6 8.9L-15.9 10.1L-15.1 11.3L-14.4 12.4L-13.7 13.4L-13.0 14.3L-12.4 15.0L-12.0 15.6L-11.7 15.4L-11.9 14.7L-12.2 13.9L-12.7 12.8L-13.1 11.7L-13.6 10.5L-14.0 9.3L-14.4 8.1L-14.7 6.9L-14.9 5.8L-15.1 4.6L-15.3 3.4L-15.5 2.2L-15.6 0.9L-15.6 -0.3L-15.7 -1.5L-15.6 -2.7L-15.8 -3.9L-15.9 -5.2L-16.0 -6.6L-16.0 -8.0L-16.0 -9.4L-16.0 -10.6L-16.0 -11.6L-16.1 -12.4Z" fill="#30d230"/><path d="M16.1 -12.4L16.0 -11.6L16.0 -10.6L16.0 -9.4L16.0 -8.0L16.0 -6.6L15.9 -5.2L15.8 -3.9L15.6 -2.7L15.7 -1.5L15.6 -0.3L15.6 0.9L15.5 2.2L15.3 3.4L15.1 4.6L14.9 5.8L14.7 6.9L14.4 8.1L14.0 9.3L13.6 10.5L13.1 11.7L12.7 12.8L12.2 13.9L11.9 14.7L11.7 15.4L12.0 15.6L12.4 15.0L13.0 14.3L13.7 13.4L14.4 12.4L15.1 11.3L15.9 10.1L16.6 8.9L17.1 7.8L17.6 6.6L18.1 5.3L18.5 4.1L18.8 2.8L19.1 1.5L19.4 0.1L19.6 -1.2L19.8 -2.6L19.6 -4.0L19.3 -5.5L18.9 -7.0L18.5 -8.4L18.0 -9.7L17.6 -10.9L17.2 -11.8L16.9 -12.6Z" fill="#30d230"/><ellipse rx="14.3" ry="10.5" fill="#16c814"/></g>
<g transform="translate(437.0,825.1) rotate(12)"><path d="M-16.3 -12.6L-16.7 -11.8L-17.0 -10.9L-17.5 -9.7L-17.9 -8.4L-18.3 -7.0L-18.7 -5.5L-19.0 -4.0L-19.2 -2.6L-19.1 -1.2L-18.8 0.1L-18.6 1.5L-18.2 2.8L-17.9 4.1L-17.5 5.3L-17.0 6.6L-16.6 7.8L-16.0 8.9L-15.3 10.1L-14.6 11.3L-13.8 12.4L-13.1 13.4L-12.4 14.3L-11.8 15.0L-11.4 15.6L-11.1 15.4L-11.3 14.7L-11.7 13.9L-12.1 12.8L-12.5 11.7L-13.0 10.5L-13.5 9.3L-13.8 8.1L-14.1 6.9L-14.4 5.8L-14.6 4.6L-14.8 3.4L-14.9 2.2L-15.0 0.9L-15.1 -0.3L-15.1 -1.5L-15.0 -2.7L-15.2 -3.9L-15.4 -5.2L-15.4 -6.6L-15.4 -8.0L-15.4 -9.4L-15.4 -10.6L-15.5 -11.6L-15.5 -12.4Z" fill="#30d230"/><path d="M15.5 -12.4L15.5 -11.6L15.4 -10.6L15.4 -9.4L15.4 -8.0L15.4 -6.6L15.4 -5.2L15.2 -3.9L15.0 -2.7L15.1 -1.5L15.1 -0.3L15.0 0.9L14.9 2.2L14.8 3.4L14.6 4.6L14.4 5.8L14.1 6.9L13.8 8.1L13.5 9.3L13.0 10.5L12.5 11.7L12.1 12.8L11.7 13.9L11.3 14.7L11.1 15.4L11.4 15.6L11.8 15.0L12.4 14.3L13.1 13.4L13.8 12.4L14.6 11.3L15.3 10.1L16.0 8.9L16.6 7.8L17.0 6.6L17.5 5.3L17.9 4.1L18.2 2.8L18.6 1.5L18.8 0.1L19.1 -1.2L19.2 -2.6L19.0 -4.0L18.7 -5.5L18.3 -7.0L17.9 -8.4L17.5 -9.7L17.0 -10.9L16.7 -11.8L16.3 -12.6Z" fill="#30d230"/><ellipse rx="13.7" ry="10.5" fill="#16c814"/></g>
<path d="M334.5 982.6L334.0 981.3L333.3 979.7L332.6 977.8L331.7 975.7L330.8 973.4L329.8 971.0L328.8 968.5L327.7 965.9L326.7 963.3L325.7 960.7L324.7 958.2L323.8 955.8L322.9 953.5L322.0 951.1L321.0 948.7L320.1 946.4L319.1 944.0L318.2 941.6L317.3 939.2L316.4 936.8L315.5 934.4L314.7 931.9L313.9 929.5L313.2 927.0L312.5 924.5L311.8 921.9L311.1 919.4L310.5 916.8L309.8 914.1L309.3 911.5L308.7 908.9L308.2 906.2L307.7 903.6L307.2 900.9L306.8 898.3L306.5 895.7L306.1 893.1L305.9 890.5L305.6 887.8L305.4 885.2L305.3 882.6L305.1 879.9L305.0 877.3L305.0 874.7L304.9 872.1L304.9 869.5L304.9 866.9L305.0 864.3L305.0 861.7L305.2 858.9L305.4 856.0L305.6 853.1L305.9 850.2L306.1 847.3L306.4 844.5L306.7 841.9L306.9 839.5L307.2 837.4L307.4 835.6L307.5 834.1L304.5 833.8L304.4 835.3L304.2 837.1L303.9 839.2L303.6 841.6L303.4 844.2L303.1 847.0L302.8 849.9L302.5 852.8L302.2 855.8L302.0 858.7L301.9 861.5L301.8 864.2L301.7 866.8L301.7 869.5L301.6 872.1L301.6 874.7L301.7 877.4L301.7 880.1L301.8 882.7L302.0 885.4L302.1 888.1L302.4 890.8L302.6 893.5L302.9 896.1L303.2 898.8L303.6 901.5L304.0 904.2L304.5 906.9L305.0 909.6L305.5 912.3L306.1 915.0L306.7 917.6L307.3 920.3L308.0 922.9L308.7 925.5L309.3 928.1L310.1 930.6L310.9 933.2L311.7 935.7L312.6 938.2L313.5 940.6L314.4 943.1L315.3 945.5L316.2 947.9L317.2 950.3L318.1 952.6L319.0 955.0L319.9 957.3L320.8 959.7L321.7 962.2L322.7 964.8L323.7 967.5L324.7 970.1L325.7 972.6L326.7 975.1L327.6 977.4L328.4 979.5L329.1 981.4L329.7 983.0L330.2 984.3Z" fill="#1fca1c"/>
<path d="M305.6 831.5L304.5 833.3L302.7 835.9L300.8 838.8L298.9 841.5L297.1 844.0L295.1 846.6L293.3 848.8L292.1 850.4L292.4 850.7L293.8 849.2L295.7 847.1L297.9 844.6L299.9 842.2L301.9 839.7L304.1 836.9L306.0 834.5L307.4 832.8Z" fill="#1fca1c"/>
<path d="M304.1 832.2L304.8 834.1L305.8 836.7L307.0 839.8L308.1 842.6L309.3 845.6L310.6 848.7L311.7 851.5L312.5 853.5L316.4 851.9L315.5 849.9L314.4 847.1L313.0 844.0L311.8 841.1L310.4 838.3L309.0 835.3L307.8 832.8L306.8 831.0Z" fill="#1fca1c"/>
<path d="M333.9 980.9L332.6 980.1L331.0 979.1L329.1 978.1L327.0 976.9L324.8 975.6L322.4 974.2L319.9 972.7L317.3 971.1L314.8 969.6L312.4 967.9L310.0 966.3L307.8 964.7L305.6 963.0L303.4 961.3L301.2 959.6L299.0 957.8L296.9 956.0L294.7 954.1L292.5 952.1L290.3 950.1L288.2 948.0L286.1 945.9L284.0 943.7L281.9 941.4L279.8 938.9L277.5 936.1L275.2 933.1L272.9 929.9L270.5 926.7L268.2 923.4L266.0 920.2L263.9 917.2L262.0 914.4L260.3 911.9L258.8 909.7L257.6 908.1L253.2 911.2L254.3 912.8L255.7 914.9L257.4 917.5L259.3 920.3L261.3 923.4L263.5 926.6L265.8 930.0L268.1 933.3L270.5 936.6L272.9 939.7L275.2 942.7L277.4 945.3L279.6 947.8L281.8 950.1L284.0 952.3L286.2 954.5L288.5 956.6L290.7 958.6L293.0 960.5L295.2 962.4L297.5 964.2L299.7 966.0L302.0 967.8L304.2 969.5L306.5 971.2L309.0 972.9L311.6 974.6L314.2 976.2L316.8 977.8L319.3 979.3L321.7 980.8L324.0 982.1L326.1 983.3L328.0 984.3L329.6 985.3L330.8 986.0Z" fill="#1fca1c"/>
<path d="M251.8 907.0L251.7 909.3L251.6 912.6L251.5 916.3L251.4 919.6L251.3 922.7L251.1 925.8L250.9 928.6L250.8 930.6L256.2 930.9L256.3 928.9L256.5 926.1L256.7 922.9L256.8 919.7L256.7 916.3L256.6 912.6L256.5 909.3L256.4 907.0Z" fill="#1fca1c"/>
<path d="M253.4 910.2L255.4 911.0L258.2 912.0L261.4 913.1L264.2 914.2L266.8 915.4L269.6 916.6L272.0 917.8L273.7 918.6L276.1 913.8L274.3 913.0L271.9 911.8L269.0 910.4L266.1 909.2L263.1 908.2L259.8 907.2L256.8 906.4L254.8 905.8Z" fill="#1fca1c"/>
<path d="M366.0 989.7L366.5 988.1L367.2 986.2L367.9 983.9L368.7 981.3L369.6 978.5L370.5 975.5L371.4 972.3L372.4 969.2L373.3 966.0L374.2 962.8L375.1 959.8L375.9 956.9L376.6 954.1L377.4 951.3L378.1 948.4L378.8 945.6L379.5 942.7L380.2 939.8L380.9 937.0L381.6 934.1L382.2 931.2L382.8 928.3L383.4 925.4L384.0 922.6L384.6 919.7L385.1 917.0L385.6 914.2L386.0 911.5L386.5 908.7L386.9 906.0L387.3 903.2L387.7 900.3L388.1 897.4L388.5 894.5L388.9 891.4L389.3 888.2L389.7 884.7L390.1 880.9L390.5 876.9L390.9 872.7L391.3 868.5L391.6 864.2L392.0 860.1L392.3 856.3L392.6 852.7L392.9 849.5L393.1 846.8L393.3 844.6L390.1 844.4L389.9 846.5L389.7 849.2L389.4 852.4L389.1 856.0L388.8 859.9L388.4 864.0L388.1 868.2L387.7 872.4L387.3 876.6L386.9 880.6L386.5 884.4L386.1 887.8L385.8 891.0L385.4 894.0L385.0 897.0L384.6 899.9L384.2 902.7L383.8 905.5L383.3 908.2L382.9 910.9L382.4 913.6L381.9 916.4L381.4 919.2L380.9 922.0L380.3 924.8L379.8 927.7L379.2 930.5L378.6 933.4L377.9 936.3L377.3 939.1L376.6 942.0L376.0 944.9L375.3 947.7L374.6 950.6L373.9 953.4L373.2 956.2L372.5 959.1L371.7 962.2L370.9 965.3L370.1 968.5L369.2 971.7L368.4 974.9L367.6 977.9L366.8 980.7L366.1 983.4L365.5 985.7L365.0 987.7L364.6 989.3Z" fill="#1fca1c"/>
<path d="M391.3 842.0L390.1 844.0L388.4 846.8L386.4 849.9L384.6 852.9L382.7 855.7L380.8 858.6L379.0 861.3L377.8 863.1L378.1 863.3L379.5 861.6L381.4 859.1L383.6 856.3L385.6 853.5L387.6 850.8L389.8 847.8L391.7 845.1L393.1 843.3Z" fill="#1fca1c"/>
<path d="M390.0 842.7L390.8 844.8L391.8 847.7L393.1 851.0L394.3 854.0L395.8 857.0L397.3 860.1L398.6 862.8L399.6 864.7L403.3 862.8L402.3 860.9L400.9 858.2L399.4 855.2L398.0 852.4L396.5 849.5L395.1 846.3L393.8 843.5L392.8 841.5Z" fill="#1fca1c"/>
<path d="M365.5 989.7L366.8 988.4L368.4 986.7L370.2 984.8L372.3 982.6L374.6 980.3L377.0 977.8L379.5 975.2L381.9 972.5L384.4 969.8L386.7 967.2L388.9 964.6L390.8 962.2L392.6 959.8L394.4 957.4L396.1 955.0L397.8 952.6L399.4 950.2L401.0 947.8L402.5 945.3L404.0 942.9L405.5 940.5L406.9 938.0L408.2 935.6L409.5 933.2L410.8 930.8L412.0 928.4L413.2 926.0L414.3 923.6L415.4 921.2L416.4 918.8L417.4 916.4L418.4 914.0L419.3 911.6L420.1 909.1L421.0 906.6L421.7 904.1L422.5 901.4L423.1 898.6L423.8 895.6L424.4 892.5L424.9 889.4L425.4 886.4L425.8 883.4L426.2 880.7L426.6 878.1L426.9 875.8L427.2 873.9L427.5 872.4L424.9 872.0L424.7 873.5L424.4 875.5L424.1 877.8L423.8 880.3L423.4 883.1L423.0 886.0L422.5 889.0L422.1 892.1L421.5 895.1L420.9 898.1L420.3 900.9L419.6 903.5L418.9 906.0L418.1 908.5L417.3 910.9L416.5 913.3L415.6 915.7L414.7 918.1L413.7 920.5L412.7 922.9L411.6 925.3L410.5 927.6L409.3 930.0L408.1 932.4L406.8 934.9L405.5 937.3L404.2 939.7L402.8 942.2L401.3 944.6L399.8 947.0L398.3 949.5L396.7 951.9L395.1 954.3L393.4 956.7L391.7 959.1L389.9 961.5L388.0 963.9L385.9 966.5L383.6 969.1L381.2 971.8L378.8 974.5L376.4 977.2L374.0 979.7L371.8 982.1L369.7 984.3L367.9 986.3L366.3 987.9L365.1 989.3Z" fill="#1fca1c"/>
<path d="M425.9 869.4L424.6 871.3L422.6 874.0L420.4 877.0L418.4 879.7L416.3 882.2L414.1 884.7L412.1 886.8L410.8 888.4L411.1 888.7L412.6 887.3L414.7 885.2L417.0 882.8L419.3 880.5L421.6 877.9L424.0 875.1L426.1 872.5L427.6 870.7Z" fill="#1fca1c"/>
<path d="M424.5 870.1L425.1 872.0L426.0 874.7L427.0 877.8L428.1 880.8L429.3 883.9L430.6 887.1L431.9 890.0L432.7 892.0L436.6 890.3L435.7 888.3L434.4 885.5L433.0 882.3L431.8 879.3L430.5 876.5L429.3 873.5L428.2 870.9L427.4 869.0Z" fill="#1fca1c"/>
<path d="M398.1 1000.9L396.9 1001.4L395.4 1002.0L393.7 1002.7L391.8 1003.6L389.8 1004.5L387.6 1005.4L385.3 1006.4L383.0 1007.4L380.7 1008.3L378.4 1009.1L376.2 1009.7L374.1 1010.3L372.0 1010.8L369.9 1011.2L367.8 1011.7L365.6 1012.0L363.5 1012.3L361.3 1012.6L359.1 1012.8L356.9 1013.0L354.7 1013.1L352.6 1013.1L350.4 1013.1L348.3 1013.0L346.1 1012.8L343.9 1012.6L341.7 1012.4L339.5 1012.0L337.2 1011.6L335.0 1011.2L332.8 1010.7L330.6 1010.2L328.5 1009.6L326.4 1009.0L324.4 1008.4L322.6 1007.7L320.8 1007.0L318.9 1006.2L317.1 1005.3L315.3 1004.4L313.5 1003.3L311.8 1002.3L310.2 1001.3L308.7 1000.3L307.3 999.4L306.0 998.6L304.9 997.9L304.0 997.4L301.7 1001.2L302.6 1001.7L303.6 1002.3L304.9 1003.1L306.3 1004.0L307.9 1005.0L309.5 1006.1L311.3 1007.1L313.2 1008.2L315.1 1009.2L317.1 1010.2L319.1 1011.1L321.1 1011.9L323.1 1012.5L325.2 1013.2L327.3 1013.8L329.5 1014.4L331.8 1014.9L334.1 1015.4L336.4 1015.8L338.8 1016.2L341.1 1016.6L343.5 1016.8L345.8 1017.0L348.1 1017.2L350.4 1017.2L352.6 1017.2L354.9 1017.0L357.2 1016.9L359.5 1016.7L361.8 1016.4L364.0 1016.0L366.3 1015.6L368.5 1015.2L370.7 1014.7L372.9 1014.1L375.0 1013.5L377.2 1012.8L379.5 1011.9L381.8 1010.8L384.1 1009.7L386.3 1008.6L388.5 1007.4L390.6 1006.3L392.6 1005.2L394.4 1004.1L396.0 1003.2L397.4 1002.4L398.5 1001.8Z" fill="#1fca1c"/>
<path d="M300.8 999.5L302.9 999.4L306.0 999.4L309.5 999.3L312.7 999.1L315.9 998.9L319.1 998.6L322.0 998.3L324.1 998.1L323.8 994.6L321.8 994.7L318.9 994.8L315.6 995.0L312.5 995.1L309.3 995.4L305.9 995.6L302.8 995.7L300.7 995.9Z" fill="#1fca1c"/>
<path d="M299.6 998.4L300.4 1000.3L301.5 1003.0L302.9 1006.0L304.2 1008.9L305.8 1011.7L307.5 1014.5L309.0 1017.0L310.1 1018.8L313.5 1016.7L312.4 1014.9L310.9 1012.4L309.2 1009.7L307.8 1007.0L306.4 1004.3L305.0 1001.4L303.8 998.8L302.9 996.9Z" fill="#1fca1c"/>
<g fill="none" stroke="#111" stroke-width="1.6" stroke-linecap="round" stroke-linejoin="round">
<path d="M599.1 839.6C598.7 837.5 597.7 833.3 596.7 827.3C595.7 821.3 594.4 811.5 593.2 803.6C592.0 795.8 590.8 787.9 589.6 780.0C588.5 772.1 587.3 762.5 586.1 756.4C584.9 750.3 584.1 746.5 582.5 743.4C581.0 740.2 579.4 738.4 576.6 737.5C573.9 736.5 568.8 737.1 566.0 737.9C563.2 738.7 561.3 740.3 560.1 742.2C558.9 744.1 558.9 743.0 558.9 749.3C558.9 755.6 559.5 769.0 560.1 780.0C560.7 791.0 561.9 806.8 562.5 815.5C563.0 824.1 562.9 824.5 563.6 831.8C564.4 839.1 565.8 849.1 566.9 859.1C568.0 869.1 569.6 881.8 570.5 891.8C571.3 901.8 571.1 910.0 571.8 919.1C572.5 928.2 573.4 937.3 574.5 946.4C575.7 955.5 577.0 965.0 578.6 973.6C580.2 982.3 583.0 991.4 584.1 998.2C585.2 1005.0 585.3 1009.2 585.5 1014.5C585.6 1019.9 585.0 1027.7 584.9 1030.4"/>
<path d="M599.1 839.6C600.7 838.5 607.0 834.2 608.5 833.2"/>
<path d="M608.5 829.2C608.8 830.6 609.7 836.5 610.0 837.9"/>
<path d="M598.4 836.3C598.8 837.2 600.5 841.0 601.0 841.9"/>
<path d="M609.7 834.4C609.3 831.2 608.2 822.5 607.4 815.5C606.6 808.4 605.5 799.7 605.0 791.8C604.5 783.9 604.3 776.1 604.3 768.2C604.3 760.3 604.9 752.4 605.0 744.5C605.1 736.7 605.1 728.8 605.0 720.9C604.9 713.0 603.7 702.8 604.3 697.3C604.9 691.8 606.1 690.4 608.5 687.8C611.0 685.3 615.4 682.3 619.2 681.9C622.9 681.5 628.2 682.9 631.0 685.5C633.8 688.0 634.5 691.4 635.7 697.3C636.9 703.2 637.3 713.0 638.1 720.9C638.9 728.8 639.7 736.7 640.5 744.5C641.2 752.4 642.2 760.3 642.8 768.2C643.4 776.1 643.6 784.7 644.0 791.8C644.4 798.9 644.6 804.6 645.2 810.7C645.8 816.8 647.2 825.5 647.5 828.5"/>
<path d="M645.9 819.2C647.0 818.6 651.2 816.1 652.3 815.5"/>
<path d="M651.1 816.6C651.2 818.4 651.5 825.5 651.6 827.3"/>
<path d="M651.6 827.3C651.8 823.3 652.7 811.5 653.0 803.6C653.3 795.8 653.2 787.9 653.5 780.0C653.7 772.1 654.0 764.2 654.6 756.4C655.2 748.5 656.4 740.6 657.0 732.7C657.6 724.8 657.8 717.0 658.2 709.1C658.6 701.2 659.0 692.0 659.4 685.5C659.8 679.0 659.2 674.0 660.5 670.1C661.9 666.2 664.3 663.7 667.6 661.8C671.0 660.0 676.9 658.4 680.6 659.0C684.4 659.6 688.1 661.0 690.1 665.4C692.1 669.8 691.9 678.2 692.5 685.5C693.0 692.7 693.6 701.2 693.6 709.1C693.6 717.0 692.8 724.8 692.5 732.7C692.1 740.6 691.3 748.5 691.3 756.4C691.3 764.2 692.5 772.1 692.5 780.0C692.5 787.9 691.5 796.9 691.3 803.6C691.1 810.3 690.7 815.3 691.3 820.2C691.9 825.1 694.2 831.0 694.8 833.2"/>
<path d="M692.5 820.2C693.5 819.9 697.8 818.6 698.8 818.3"/>
<path d="M697.9 819.0C698.0 820.4 698.3 825.9 698.4 827.3"/>
<path d="M698.4 824.9C698.8 821.4 699.9 811.1 700.7 803.6C701.5 796.2 702.1 787.9 703.1 780.0C704.1 772.1 705.5 764.2 706.6 756.4C707.8 748.5 709.2 740.6 710.2 732.7C711.2 724.8 711.8 715.0 712.5 709.1C713.3 703.2 713.1 700.4 714.9 697.3C716.7 694.1 720.0 691.4 723.2 690.2C726.3 689.0 730.9 688.6 733.8 690.2C736.7 691.8 739.1 694.5 740.4 699.6C741.8 704.8 741.7 713.4 742.1 720.9C742.5 728.4 742.7 736.7 742.8 744.5C742.9 752.4 743.1 760.3 742.8 768.2C742.5 776.1 741.6 783.9 740.9 791.8C740.2 799.7 739.1 807.6 738.5 815.5C738.0 823.3 737.5 833.3 737.4 839.1C737.2 844.8 737.3 847.0 737.5 850.0C737.6 853.0 738.1 853.3 738.2 857.3C738.3 861.2 738.2 868.6 738.2 873.6C738.1 878.6 737.8 882.9 737.8 887.3C737.8 891.7 737.7 894.2 738.2 900.0C738.7 905.8 740.5 918.2 740.9 921.8"/>
<path d="M608.5 689.0C608.9 691.0 609.3 697.9 610.9 700.8C612.5 703.8 615.0 706.1 618.0 706.7C621.0 707.4 626.4 706.4 628.6 704.8C630.9 703.3 631.3 700.3 631.7 697.3C632.1 694.2 631.1 688.4 631.0 686.6"/>
<path d="M666.5 664.2C666.7 666.5 666.7 675.0 667.6 678.4C668.6 681.7 669.6 683.5 672.4 684.3C675.1 685.1 681.6 684.5 684.2 683.1C686.7 681.7 687.1 679.2 687.7 676.0C688.3 672.8 687.7 666.2 687.7 664.2"/>
<path d="M719.6 693.7C720.0 696.3 720.1 705.5 721.5 709.1C722.9 712.6 725.3 714.4 727.9 715.0C730.5 715.6 735.4 714.4 737.4 712.6C739.3 710.9 739.3 707.1 739.7 704.4C740.1 701.6 739.7 697.5 739.7 696.1"/>
<path d="M561.3 743.4C561.7 745.1 562.3 751.5 563.6 754.0C565.0 756.5 567.2 757.9 569.5 758.3C571.9 758.6 576.0 757.9 577.8 756.4C579.6 754.9 580.0 751.8 580.2 749.3C580.4 746.7 579.2 742.4 579.0 741.0"/>
<path d="M621.5 776.0C622.9 776.1 628.4 776.4 629.8 776.5"/>
<path d="M724.4 771.7C725.3 771.8 729.3 772.3 730.3 772.4"/>
<path d="M757.3 847.3C758.2 846.1 760.8 842.3 762.7 840.0C764.7 837.7 767.0 835.6 769.1 833.6C771.2 831.7 773.3 829.4 775.5 828.2C777.6 827.0 779.8 826.4 781.8 826.4C783.8 826.3 785.8 826.7 787.3 827.7C788.8 828.8 789.8 831.1 790.9 832.7C792.0 834.3 793.5 835.8 793.6 837.3C793.8 838.8 792.7 840.0 791.8 841.8C790.9 843.6 789.5 845.9 788.2 848.2C786.8 850.5 784.7 854.1 783.6 855.5C782.6 856.8 782.1 856.2 781.8 856.4"/>
<path d="M787.7 832.3C787.0 833.0 784.8 834.6 783.6 836.4C782.5 838.1 781.4 840.6 780.9 842.7C780.4 844.8 780.3 847.0 780.5 849.1C780.6 851.2 781.6 854.4 781.8 855.5"/>
<path d="M781.8 856.4C781.5 857.1 780.5 859.2 780.0 860.9C779.5 862.6 781.1 860.3 779.1 866.4C777.1 872.4 770.9 889.8 768.2 897.3C765.5 904.7 764.3 905.9 762.7 910.9C761.1 915.9 760.5 921.8 758.6 927.3C756.8 932.7 755.2 937.7 751.8 943.6C748.4 949.5 742.7 956.4 738.2 962.7C733.6 969.1 728.6 975.9 724.5 981.8C720.5 987.7 716.6 993.2 713.6 998.2C710.7 1003.2 708.5 1006.5 706.8 1011.8C705.1 1017.2 703.9 1027.3 703.3 1030.4"/>
</g>
<g transform="translate(573.1,772.9) rotate(0)"><path d="M-18.7 -13.4L-19.0 -12.6L-19.4 -11.6L-19.8 -10.3L-20.2 -8.9L-20.6 -7.4L-21.0 -5.9L-21.3 -4.3L-21.6 -2.8L-21.4 -1.4L-21.2 0.1L-20.9 1.5L-20.6 3.0L-20.2 4.4L-19.8 5.8L-19.4 7.1L-18.9 8.3L-18.3 9.6L-17.6 10.8L-16.9 12.0L-16.2 13.2L-15.4 14.2L-14.7 15.1L-14.2 15.9L-13.7 16.4L-13.4 16.3L-13.6 15.6L-14.0 14.7L-14.4 13.6L-14.9 12.5L-15.3 11.2L-15.8 10.0L-16.2 8.7L-16.4 7.5L-16.7 6.3L-16.9 5.1L-17.1 3.7L-17.2 2.4L-17.3 1.0L-17.4 -0.3L-17.4 -1.6L-17.4 -2.9L-17.6 -4.2L-17.7 -5.6L-17.7 -7.1L-17.7 -8.6L-17.7 -10.0L-17.7 -11.3L-17.8 -12.4L-17.9 -13.3Z" fill="#30d230"/><path d="M17.9 -13.3L17.8 -12.4L17.7 -11.3L17.7 -10.0L17.7 -8.6L17.7 -7.1L17.7 -5.6L17.6 -4.2L17.4 -2.9L17.4 -1.6L17.4 -0.3L17.3 1.0L17.2 2.4L17.1 3.7L16.9 5.1L16.7 6.3L16.4 7.5L16.2 8.7L15.8 10.0L15.3 11.2L14.9 12.5L14.4 13.6L14.0 14.7L13.6 15.6L13.4 16.3L13.7 16.4L14.2 15.9L14.7 15.1L15.4 14.2L16.2 13.2L16.9 12.0L17.6 10.8L18.3 9.6L18.9 8.3L19.4 7.1L19.8 5.8L20.2 4.4L20.6 3.0L20.9 1.5L21.2 0.1L21.4 -1.4L21.6 -2.8L21.3 -4.3L21.0 -5.9L20.6 -7.4L20.2 -8.9L19.8 -10.3L19.4 -11.6L19.0 -12.6L18.7 -13.4Z" fill="#30d230"/><ellipse rx="16.1" ry="11.3" fill="#16c814"/></g>
<g transform="translate(577.3,810.7) rotate(0)"><path d="M-18.7 -13.4L-19.0 -12.6L-19.4 -11.6L-19.8 -10.3L-20.2 -8.9L-20.6 -7.4L-21.0 -5.9L-21.3 -4.3L-21.6 -2.8L-21.4 -1.4L-21.2 0.1L-20.9 1.5L-20.6 3.0L-20.2 4.4L-19.8 5.8L-19.4 7.1L-18.9 8.3L-18.3 9.6L-17.6 10.8L-16.9 12.0L-16.2 13.2L-15.4 14.2L-14.7 15.1L-14.2 15.9L-13.7 16.4L-13.4 16.3L-13.6 15.6L-14.0 14.7L-14.4 13.6L-14.9 12.5L-15.3 11.2L-15.8 10.0L-16.2 8.7L-16.4 7.5L-16.7 6.3L-16.9 5.1L-17.1 3.7L-17.2 2.4L-17.3 1.0L-17.4 -0.3L-17.4 -1.6L-17.4 -2.9L-17.6 -4.2L-17.7 -5.6L-17.7 -7.1L-17.7 -8.6L-17.7 -10.0L-17.7 -11.3L-17.8 -12.4L-17.9 -13.3Z" fill="#30d230"/><path d="M17.9 -13.3L17.8 -12.4L17.7 -11.3L17.7 -10.0L17.7 -8.6L17.7 -7.1L17.7 -5.6L17.6 -4.2L17.4 -2.9L17.4 -1.6L17.4 -0.3L17.3 1.0L17.2 2.4L17.1 3.7L16.9 5.1L16.7 6.3L16.4 7.5L16.2 8.7L15.8 10.0L15.3 11.2L14.9 12.5L14.4 13.6L14.0 14.7L13.6 15.6L13.4 16.3L13.7 16.4L14.2 15.9L14.7 15.1L15.4 14.2L16.2 13.2L16.9 12.0L17.6 10.8L18.3 9.6L18.9 8.3L19.4 7.1L19.8 5.8L20.2 4.4L20.6 3.0L20.9 1.5L21.2 0.1L21.4 -1.4L21.6 -2.8L21.3 -4.3L21.0 -5.9L20.6 -7.4L20.2 -8.9L19.8 -10.3L19.4 -11.6L19.0 -12.6L18.7 -13.4Z" fill="#30d230"/><ellipse rx="16.1" ry="11.3" fill="#16c814"/></g>
<g transform="translate(623.9,734.4) rotate(0)"><path d="M-21.5 -15.0L-21.8 -14.2L-22.2 -13.0L-22.6 -11.6L-23.1 -10.1L-23.5 -8.4L-23.9 -6.6L-24.2 -4.9L-24.4 -3.2L-24.2 -1.6L-24.0 0.0L-23.7 1.7L-23.4 3.3L-23.1 5.0L-22.7 6.5L-22.2 8.0L-21.8 9.5L-21.2 10.8L-20.5 12.2L-19.7 13.5L-19.0 14.7L-18.3 15.7L-17.6 16.7L-17.0 17.5L-16.5 18.1L-16.3 17.9L-16.5 17.2L-16.8 16.3L-17.2 15.2L-17.7 14.0L-18.2 12.7L-18.6 11.4L-19.0 10.0L-19.3 8.7L-19.5 7.4L-19.7 5.9L-19.9 4.4L-20.1 2.9L-20.2 1.3L-20.2 -0.3L-20.2 -1.8L-20.2 -3.3L-20.4 -4.8L-20.5 -6.4L-20.6 -8.1L-20.6 -9.7L-20.6 -11.3L-20.6 -12.8L-20.6 -14.0L-20.7 -15.0Z" fill="#30d230"/><path d="M20.7 -15.0L20.6 -14.0L20.6 -12.8L20.6 -11.3L20.6 -9.7L20.6 -8.1L20.5 -6.4L20.4 -4.8L20.2 -3.3L20.2 -1.8L20.2 -0.3L20.2 1.3L20.1 2.9L19.9 4.4L19.7 5.9L19.5 7.4L19.3 8.7L19.0 10.0L18.6 11.4L18.2 12.7L17.7 14.0L17.2 15.2L16.8 16.3L16.5 17.2L16.3 17.9L16.5 18.1L17.0 17.5L17.6 16.7L18.3 15.7L19.0 14.7L19.7 13.5L20.5 12.2L21.2 10.8L21.8 9.5L22.2 8.0L22.7 6.5L23.1 5.0L23.4 3.3L23.7 1.7L24.0 0.0L24.2 -1.6L24.4 -3.2L24.2 -4.9L23.9 -6.6L23.5 -8.4L23.1 -10.1L22.6 -11.6L22.2 -13.0L21.8 -14.2L21.5 -15.0Z" fill="#30d230"/><ellipse rx="18.9" ry="13.0" fill="#16c814"/></g>
<g transform="translate(625.6,790.6) rotate(0)"><path d="M-21.5 -15.0L-21.8 -14.2L-22.2 -13.0L-22.6 -11.6L-23.1 -10.1L-23.5 -8.4L-23.9 -6.6L-24.2 -4.9L-24.4 -3.2L-24.2 -1.6L-24.0 0.0L-23.7 1.7L-23.4 3.3L-23.1 5.0L-22.7 6.5L-22.2 8.0L-21.8 9.5L-21.2 10.8L-20.5 12.2L-19.7 13.5L-19.0 14.7L-18.3 15.7L-17.6 16.7L-17.0 17.5L-16.5 18.1L-16.3 17.9L-16.5 17.2L-16.8 16.3L-17.2 15.2L-17.7 14.0L-18.2 12.7L-18.6 11.4L-19.0 10.0L-19.3 8.7L-19.5 7.4L-19.7 5.9L-19.9 4.4L-20.1 2.9L-20.2 1.3L-20.2 -0.3L-20.2 -1.8L-20.2 -3.3L-20.4 -4.8L-20.5 -6.4L-20.6 -8.1L-20.6 -9.7L-20.6 -11.3L-20.6 -12.8L-20.6 -14.0L-20.7 -15.0Z" fill="#30d230"/><path d="M20.7 -15.0L20.6 -14.0L20.6 -12.8L20.6 -11.3L20.6 -9.7L20.6 -8.1L20.5 -6.4L20.4 -4.8L20.2 -3.3L20.2 -1.8L20.2 -0.3L20.2 1.3L20.1 2.9L19.9 4.4L19.7 5.9L19.5 7.4L19.3 8.7L19.0 10.0L18.6 11.4L18.2 12.7L17.7 14.0L17.2 15.2L16.8 16.3L16.5 17.2L16.3 17.9L16.5 18.1L17.0 17.5L17.6 16.7L18.3 15.7L19.0 14.7L19.7 13.5L20.5 12.2L21.2 10.8L21.8 9.5L22.2 8.0L22.7 6.5L23.1 5.0L23.4 3.3L23.7 1.7L24.0 0.0L24.2 -1.6L24.4 -3.2L24.2 -4.9L23.9 -6.6L23.5 -8.4L23.1 -10.1L22.6 -11.6L22.2 -13.0L21.8 -14.2L21.5 -15.0Z" fill="#30d230"/><ellipse rx="18.9" ry="13.0" fill="#16c814"/></g>
<g transform="translate(673.5,711.5) rotate(0)"><path d="M-21.5 -15.0L-21.8 -14.2L-22.2 -13.0L-22.6 -11.6L-23.1 -10.1L-23.5 -8.4L-23.9 -6.6L-24.2 -4.9L-24.4 -3.2L-24.2 -1.6L-24.0 0.0L-23.7 1.7L-23.4 3.3L-23.1 5.0L-22.7 6.5L-22.2 8.0L-21.8 9.5L-21.2 10.8L-20.5 12.2L-19.7 13.5L-19.0 14.7L-18.3 15.7L-17.6 16.7L-17.0 17.5L-16.5 18.1L-16.3 17.9L-16.5 17.2L-16.8 16.3L-17.2 15.2L-17.7 14.0L-18.2 12.7L-18.6 11.4L-19.0 10.0L-19.3 8.7L-19.5 7.4L-19.7 5.9L-19.9 4.4L-20.1 2.9L-20.2 1.3L-20.2 -0.3L-20.2 -1.8L-20.2 -3.3L-20.4 -4.8L-20.5 -6.4L-20.6 -8.1L-20.6 -9.7L-20.6 -11.3L-20.6 -12.8L-20.6 -14.0L-20.7 -15.0Z" fill="#30d230"/><path d="M20.7 -15.0L20.6 -14.0L20.6 -12.8L20.6 -11.3L20.6 -9.7L20.6 -8.1L20.5 -6.4L20.4 -4.8L20.2 -3.3L20.2 -1.8L20.2 -0.3L20.2 1.3L20.1 2.9L19.9 4.4L19.7 5.9L19.5 7.4L19.3 8.7L19.0 10.0L18.6 11.4L18.2 12.7L17.7 14.0L17.2 15.2L16.8 16.3L16.5 17.2L16.3 17.9L16.5 18.1L17.0 17.5L17.6 16.7L18.3 15.7L19.0 14.7L19.7 13.5L20.5 12.2L21.2 10.8L21.8 9.5L22.2 8.0L22.7 6.5L23.1 5.0L23.4 3.3L23.7 1.7L24.0 0.0L24.2 -1.6L24.4 -3.2L24.2 -4.9L23.9 -6.6L23.5 -8.4L23.1 -10.1L22.6 -11.6L22.2 -13.0L21.8 -14.2L21.5 -15.0Z" fill="#30d230"/><ellipse rx="18.9" ry="13.0" fill="#16c814"/></g>
<g transform="translate(673.5,768.2) rotate(0)"><path d="M-21.5 -15.0L-21.8 -14.2L-22.2 -13.0L-22.6 -11.6L-23.1 -10.1L-23.5 -8.4L-23.9 -6.6L-24.2 -4.9L-24.4 -3.2L-24.2 -1.6L-24.0 0.0L-23.7 1.7L-23.4 3.3L-23.1 5.0L-22.7 6.5L-22.2 8.0L-21.8 9.5L-21.2 10.8L-20.5 12.2L-19.7 13.5L-19.0 14.7L-18.3 15.7L-17.6 16.7L-17.0 17.5L-16.5 18.1L-16.3 17.9L-16.5 17.2L-16.8 16.3L-17.2 15.2L-17.7 14.0L-18.2 12.7L-18.6 11.4L-19.0 10.0L-19.3 8.7L-19.5 7.4L-19.7 5.9L-19.9 4.4L-20.1 2.9L-20.2 1.3L-20.2 -0.3L-20.2 -1.8L-20.2 -3.3L-20.4 -4.8L-20.5 -6.4L-20.6 -8.1L-20.6 -9.7L-20.6 -11.3L-20.6 -12.8L-20.6 -14.0L-20.7 -15.0Z" fill="#30d230"/><path d="M20.7 -15.0L20.6 -14.0L20.6 -12.8L20.6 -11.3L20.6 -9.7L20.6 -8.1L20.5 -6.4L20.4 -4.8L20.2 -3.3L20.2 -1.8L20.2 -0.3L20.2 1.3L20.1 2.9L19.9 4.4L19.7 5.9L19.5 7.4L19.3 8.7L19.0 10.0L18.6 11.4L18.2 12.7L17.7 14.0L17.2 15.2L16.8 16.3L16.5 17.2L16.3 17.9L16.5 18.1L17.0 17.5L17.6 16.7L18.3 15.7L19.0 14.7L19.7 13.5L20.5 12.2L21.2 10.8L21.8 9.5L22.2 8.0L22.7 6.5L23.1 5.0L23.4 3.3L23.7 1.7L24.0 0.0L24.2 -1.6L24.4 -3.2L24.2 -4.9L23.9 -6.6L23.5 -8.4L23.1 -10.1L22.6 -11.6L22.2 -13.0L21.8 -14.2L21.5 -15.0Z" fill="#30d230"/><ellipse rx="18.9" ry="13.0" fill="#16c814"/></g>
<g transform="translate(726.7,729.2) rotate(0)"><path d="M-21.5 -15.0L-21.8 -14.2L-22.2 -13.0L-22.6 -11.6L-23.1 -10.1L-23.5 -8.4L-23.9 -6.6L-24.2 -4.9L-24.4 -3.2L-24.2 -1.6L-24.0 0.0L-23.7 1.7L-23.4 3.3L-23.1 5.0L-22.7 6.5L-22.2 8.0L-21.8 9.5L-21.2 10.8L-20.5 12.2L-19.7 13.5L-19.0 14.7L-18.3 15.7L-17.6 16.7L-17.0 17.5L-16.5 18.1L-16.3 17.9L-16.5 17.2L-16.8 16.3L-17.2 15.2L-17.7 14.0L-18.2 12.7L-18.6 11.4L-19.0 10.0L-19.3 8.7L-19.5 7.4L-19.7 5.9L-19.9 4.4L-20.1 2.9L-20.2 1.3L-20.2 -0.3L-20.2 -1.8L-20.2 -3.3L-20.4 -4.8L-20.5 -6.4L-20.6 -8.1L-20.6 -9.7L-20.6 -11.3L-20.6 -12.8L-20.6 -14.0L-20.7 -15.0Z" fill="#30d230"/><path d="M20.7 -15.0L20.6 -14.0L20.6 -12.8L20.6 -11.3L20.6 -9.7L20.6 -8.1L20.5 -6.4L20.4 -4.8L20.2 -3.3L20.2 -1.8L20.2 -0.3L20.2 1.3L20.1 2.9L19.9 4.4L19.7 5.9L19.5 7.4L19.3 8.7L19.0 10.0L18.6 11.4L18.2 12.7L17.7 14.0L17.2 15.2L16.8 16.3L16.5 17.2L16.3 17.9L16.5 18.1L17.0 17.5L17.6 16.7L18.3 15.7L19.0 14.7L19.7 13.5L20.5 12.2L21.2 10.8L21.8 9.5L22.2 8.0L22.7 6.5L23.1 5.0L23.4 3.3L23.7 1.7L24.0 0.0L24.2 -1.6L24.4 -3.2L24.2 -4.9L23.9 -6.6L23.5 -8.4L23.1 -10.1L22.6 -11.6L22.2 -13.0L21.8 -14.2L21.5 -15.0Z" fill="#30d230"/><ellipse rx="18.9" ry="13.0" fill="#16c814"/></g>
<g transform="translate(722.0,785.4) rotate(0)"><path d="M-21.5 -15.0L-21.8 -14.2L-22.2 -13.0L-22.6 -11.6L-23.1 -10.1L-23.5 -8.4L-23.9 -6.6L-24.2 -4.9L-24.4 -3.2L-24.2 -1.6L-24.0 0.0L-23.7 1.7L-23.4 3.3L-23.1 5.0L-22.7 6.5L-22.2 8.0L-21.8 9.5L-21.2 10.8L-20.5 12.2L-19.7 13.5L-19.0 14.7L-18.3 15.7L-17.6 16.7L-17.0 17.5L-16.5 18.1L-16.3 17.9L-16.5 17.2L-16.8 16.3L-17.2 15.2L-17.7 14.0L-18.2 12.7L-18.6 11.4L-19.0 10.0L-19.3 8.7L-19.5 7.4L-19.7 5.9L-19.9 4.4L-20.1 2.9L-20.2 1.3L-20.2 -0.3L-20.2 -1.8L-20.2 -3.3L-20.4 -4.8L-20.5 -6.4L-20.6 -8.1L-20.6 -9.7L-20.6 -11.3L-20.6 -12.8L-20.6 -14.0L-20.7 -15.0Z" fill="#30d230"/><path d="M20.7 -15.0L20.6 -14.0L20.6 -12.8L20.6 -11.3L20.6 -9.7L20.6 -8.1L20.5 -6.4L20.4 -4.8L20.2 -3.3L20.2 -1.8L20.2 -0.3L20.2 1.3L20.1 2.9L19.9 4.4L19.7 5.9L19.5 7.4L19.3 8.7L19.0 10.0L18.6 11.4L18.2 12.7L17.7 14.0L17.2 15.2L16.8 16.3L16.5 17.2L16.3 17.9L16.5 18.1L17.0 17.5L17.6 16.7L18.3 15.7L19.0 14.7L19.7 13.5L20.5 12.2L21.2 10.8L21.8 9.5L22.2 8.0L22.7 6.5L23.1 5.0L23.4 3.3L23.7 1.7L24.0 0.0L24.2 -1.6L24.4 -3.2L24.2 -4.9L23.9 -6.6L23.5 -8.4L23.1 -10.1L22.6 -11.6L22.2 -13.0L21.8 -14.2L21.5 -15.0Z" fill="#30d230"/><ellipse rx="18.9" ry="13.0" fill="#16c814"/></g>
<g transform="translate(753.5,865.5) rotate(27)"><ellipse rx="10.9" ry="15.6" fill="#16c814"/></g>
<g transform="translate(776.8,880.0) rotate(27)"><ellipse rx="10.9" ry="15.5" fill="#16c814"/></g>
<path d="M547.3 870.9C548.0 871.5 549.5 873.3 551.8 874.5C554.1 875.8 557.1 876.9 560.9 878.2C564.7 879.5 569.2 881.1 574.5 882.3C579.8 883.4 585.9 884.4 592.7 885.0C599.5 885.6 604.8 886.1 615.5 885.8C626.1 885.5 642.7 884.4 656.4 883.1C670.0 881.8 685.5 880.1 697.3 878.2C709.1 876.2 720.5 873.0 727.3 871.4C734.1 869.7 734.8 869.5 738.2 868.2C741.5 866.9 744.7 865.5 747.3 863.6C749.8 861.8 752.2 859.5 753.6 857.3C755.1 855.0 756.0 851.8 756.2 850.0C756.3 848.2 755.6 847.4 754.5 846.4C753.5 845.3 751.8 844.4 750.0 843.6C748.2 842.9 745.1 842.2 743.6 841.8C742.2 841.4 741.5 841.4 741.1 841.3" fill="none" stroke="#1433ee" stroke-width="4.3" stroke-linecap="round" stroke-linejoin="round"/>
<path d="M548.5 871.4L549.5 869.8L551.0 867.6L552.7 865.2L554.3 862.8L556.0 860.5L557.8 858.1L559.4 856.0L560.5 854.5L559.5 853.7L558.3 855.1L556.6 857.2L554.7 859.5L552.9 861.7L551.1 863.9L549.1 866.1L547.4 868.2L546.1 869.5Z" fill="#1433ee"/>
<path d="M559.0 853.5L558.5 855.4L557.9 858.2L557.1 861.3L556.4 864.2L555.8 867.2L555.1 870.3L554.4 873.1L554.0 875.0L557.9 875.9L558.2 873.9L558.8 871.1L559.4 867.9L560.0 864.9L560.3 861.8L560.6 858.6L560.9 855.8L561.0 853.8Z" fill="#1433ee"/>
<path d="M559.5 852.7L557.5 853.7L554.8 855.1L551.7 856.7L548.7 858.2L545.7 859.8L542.4 861.4L539.5 862.9L537.6 864.0L537.9 864.7L540.0 863.9L543.0 862.7L546.4 861.3L549.5 860.0L552.6 858.6L555.7 857.1L558.6 855.8L560.5 854.9Z" fill="#1433ee"/>
<path d="M740.9 842.7L742.8 842.5L745.6 842.2L748.8 842.0L751.8 841.7L755.0 841.6L758.4 841.5L761.4 841.4L763.6 841.2L763.7 838.4L761.5 838.2L758.5 837.9L755.0 837.6L751.8 837.3L748.7 837.3L745.4 837.3L742.6 837.3L740.6 837.3Z" fill="#1433ee"/>
<path d="M738.9 842.5L739.6 844.1L740.8 846.4L742.0 848.9L743.1 851.1L744.2 853.3L745.4 855.4L746.4 857.3L747.1 858.6L751.5 856.3L750.8 855.0L749.9 853.1L748.8 851.0L747.8 848.9L746.7 846.6L745.6 844.1L744.6 841.8L743.9 840.2Z" fill="#1433ee"/>
<path d="M753.8 928.5L752.9 929.6L751.7 931.0L750.4 932.6L748.9 934.4L747.2 936.4L745.5 938.5L743.7 940.7L741.9 942.9L740.1 945.1L738.3 947.4L736.6 949.5L735.1 951.6L733.6 953.6L732.2 955.6L730.7 957.6L729.2 959.7L727.8 961.8L726.4 963.9L725.0 966.0L723.6 968.0L722.3 970.1L721.0 972.1L719.8 974.1L718.6 976.1L717.4 978.0L716.3 979.9L715.3 981.8L714.3 983.7L713.3 985.6L712.4 987.5L711.5 989.3L710.6 991.1L709.8 992.9L709.0 994.6L708.2 996.2L707.4 997.9L706.7 999.5L706.0 1001.1L705.4 1002.7L704.8 1004.3L704.2 1005.9L703.6 1007.4L703.1 1008.8L702.6 1010.2L702.2 1011.4L701.8 1012.5L701.4 1013.4L701.1 1014.2L703.2 1014.9L703.5 1014.1L703.8 1013.2L704.1 1012.1L704.5 1010.8L704.9 1009.5L705.4 1008.0L705.9 1006.5L706.4 1005.0L707.0 1003.4L707.6 1001.7L708.3 1000.1L708.9 998.5L709.6 996.9L710.4 995.2L711.1 993.5L711.9 991.7L712.7 989.9L713.6 988.1L714.5 986.2L715.5 984.3L716.4 982.4L717.5 980.5L718.5 978.6L719.6 976.7L720.8 974.7L722.0 972.7L723.2 970.7L724.5 968.6L725.9 966.6L727.2 964.5L728.6 962.4L730.0 960.3L731.5 958.2L732.9 956.1L734.4 954.1L735.8 952.1L737.3 950.0L739.0 947.9L740.7 945.6L742.5 943.4L744.3 941.1L746.0 938.9L747.7 936.8L749.4 934.8L750.8 933.0L752.2 931.3L753.3 929.9L754.2 928.8Z" fill="#1fca1c"/>
<path d="M703.0 1012.4L702.2 1012.1L701.1 1011.7L699.9 1011.2L698.6 1010.6L697.1 1010.0L695.5 1009.3L693.7 1008.7L691.9 1008.0L690.1 1007.3L688.2 1006.7L686.2 1006.1L684.2 1005.5L682.2 1005.0L680.2 1004.5L678.0 1003.9L675.7 1003.4L673.4 1002.9L671.0 1002.4L668.6 1001.9L666.2 1001.4L663.7 1001.0L661.3 1000.7L658.9 1000.3L656.6 1000.1L654.2 999.9L651.8 999.7L649.4 999.7L647.0 999.6L644.6 999.6L642.2 999.6L639.8 999.7L637.5 999.7L635.2 999.8L633.1 999.9L631.0 1000.1L629.0 1000.2L627.0 1000.3L625.2 1000.5L623.4 1000.7L621.6 1000.9L620.0 1001.1L618.3 1001.4L616.8 1001.7L615.3 1001.9L613.8 1002.2L612.4 1002.5L611.0 1002.8L609.6 1003.0L608.2 1003.3L606.9 1003.7L605.5 1004.0L604.2 1004.4L602.9 1004.8L601.7 1005.1L600.6 1005.5L599.5 1005.8L598.6 1006.1L597.7 1006.4L597.0 1006.6L596.4 1006.8L597.4 1010.3L598.0 1010.1L598.8 1009.9L599.7 1009.7L600.6 1009.4L601.7 1009.1L602.8 1008.8L604.0 1008.4L605.2 1008.1L606.5 1007.8L607.8 1007.5L609.1 1007.2L610.4 1007.0L611.7 1006.7L613.1 1006.4L614.5 1006.2L616.0 1005.9L617.5 1005.7L619.0 1005.4L620.5 1005.2L622.2 1005.0L623.8 1004.8L625.6 1004.6L627.4 1004.5L629.2 1004.4L631.2 1004.3L633.3 1004.2L635.4 1004.1L637.6 1004.0L639.9 1003.9L642.2 1003.9L644.6 1003.9L646.9 1003.9L649.3 1004.0L651.6 1004.1L653.9 1004.3L656.1 1004.5L658.4 1004.7L660.7 1005.0L663.0 1005.4L665.4 1005.8L667.7 1006.3L670.1 1006.8L672.4 1007.3L674.7 1007.8L676.9 1008.4L679.0 1008.9L681.1 1009.4L683.0 1009.9L684.9 1010.5L686.7 1011.1L688.6 1011.7L690.4 1012.3L692.1 1013.0L693.8 1013.6L695.3 1014.3L696.8 1014.9L698.2 1015.4L699.4 1015.9L700.5 1016.4L701.4 1016.7Z" fill="#1fca1c"/>
<path d="M597.0 1009.0L598.5 1007.5L600.7 1005.4L603.2 1003.1L605.5 1000.8L607.9 998.5L610.4 996.1L612.7 993.9L614.2 992.3L614.0 992.0L612.3 993.4L609.9 995.5L607.2 997.8L604.7 999.9L602.2 1002.0L599.6 1004.2L597.3 1006.2L595.7 1007.5Z" fill="#1fca1c"/>
<path d="M595.2 1009.7L597.0 1010.4L599.6 1011.4L602.5 1012.5L605.3 1013.4L608.2 1014.1L611.1 1014.8L613.7 1015.3L615.5 1015.7L616.5 1011.2L614.6 1010.9L612.0 1010.4L609.2 1009.8L606.5 1009.1L603.8 1008.5L600.9 1007.6L598.2 1006.8L596.4 1006.3Z" fill="#1fca1c"/>
</svg>
<!-- /SVGBOT -->
<!-- TEXT -->
<div class="t blk b" style="left:426px;top:588px;">PIPJs, DIPJs &amp; BASE OF</div>
<div class="t blk b" style="left:426px;top:611px;">THUMB</div>
<div class="t teal b" style="left:426px;top:634px;">Bimanual palpation using</div>
<div class="t teal b" style="left:426px;top:657px;">thumb and index finger</div>

<div class="t blk b" style="left:86px;top:658px;">HAND</div>
<div class="t teal b" style="left:86px;top:687px;">Wasting of thenar &amp;</div>
<div class="t teal b" style="left:86px;top:710px;">hypothenar eminence</div>
<div class="t teal b" style="left:86px;top:738px;">Thickening of flexor</div>
<div class="t teal b" style="left:86px;top:761px;">tendons (Dupuytren’s)</div>

<div class="t blk b" style="left:786px;top:733px;">MCPJs</div>
<div class="t teal b" style="left:786px;top:756px;">Squeeze gentle across row</div>
<div class="t teal b" style="left:786px;top:779px;">If painful then bimanual</div>
<div class="t teal b" style="left:786px;top:802px;">palpation of each MCPJ</div>

<div class="t blk b" style="left:383px;top:1041px;">WRIST</div>
<div class="t teal b" style="left:383px;top:1064px;">Ulnar border</div>
<div class="t teal b" style="left:383px;top:1087px;">Ulnar head (extensor carpi ulnaris</div>
<div class="t teal b" style="left:383px;top:1110px;">tendinitis - RA)</div>
<div class="t teal b" style="left:383px;top:1133px;">Radial styloid process (?de</div>
<div class="t teal b" style="left:383px;top:1156px;">Quervain’s tenosynovitis)</div>
<div class="t teal b" style="left:383px;top:1179px;">Anatomical snuff box for tenderness</div>
<div class="t teal b" style="left:383px;top:1202px;">if trauma (# scaphoid)</div>
<!-- /TEXT -->

</body></html>
